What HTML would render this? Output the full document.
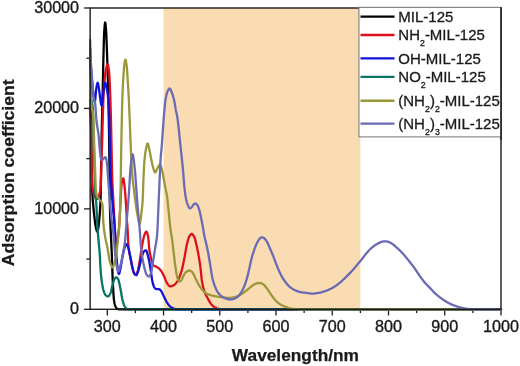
<!DOCTYPE html>
<html><head><meta charset="utf-8"><style>
html,body{margin:0;padding:0;background:#fff;}
svg{display:block;}
text{font-family:"Liberation Sans",sans-serif;fill:#1a1a1a;}
</style></head><body>
<svg width="520" height="366" viewBox="0 0 520 366">
<rect x="0" y="0" width="520" height="366" fill="#fff"/>
<rect x="163.54" y="8" width="196.84" height="301.30" fill="#FADCB3"/>
<g stroke="#1c1c1c" stroke-width="1.3">
<line x1="107.30" y1="309.3" x2="107.30" y2="315.50"/>
<line x1="135.42" y1="309.3" x2="135.42" y2="313.10"/>
<line x1="163.54" y1="309.3" x2="163.54" y2="315.50"/>
<line x1="191.66" y1="309.3" x2="191.66" y2="313.10"/>
<line x1="219.78" y1="309.3" x2="219.78" y2="315.50"/>
<line x1="247.90" y1="309.3" x2="247.90" y2="313.10"/>
<line x1="276.02" y1="309.3" x2="276.02" y2="315.50"/>
<line x1="304.14" y1="309.3" x2="304.14" y2="313.10"/>
<line x1="332.26" y1="309.3" x2="332.26" y2="315.50"/>
<line x1="360.38" y1="309.3" x2="360.38" y2="313.10"/>
<line x1="388.50" y1="309.3" x2="388.50" y2="315.50"/>
<line x1="416.62" y1="309.3" x2="416.62" y2="313.10"/>
<line x1="444.74" y1="309.3" x2="444.74" y2="315.50"/>
<line x1="472.86" y1="309.3" x2="472.86" y2="313.10"/>
<line x1="500.98" y1="309.3" x2="500.98" y2="315.50"/>
<line x1="83.95" y1="309.30" x2="90.15" y2="309.30"/>
<line x1="86.35" y1="259.08" x2="90.15" y2="259.08"/>
<line x1="83.95" y1="208.87" x2="90.15" y2="208.87"/>
<line x1="86.35" y1="158.65" x2="90.15" y2="158.65"/>
<line x1="83.95" y1="108.43" x2="90.15" y2="108.43"/>
<line x1="86.35" y1="58.22" x2="90.15" y2="58.22"/>
<line x1="83.95" y1="8.00" x2="90.15" y2="8.00"/>
</g>
<polyline points="90.40,100.00 90.65,103.19 90.90,111.08 91.15,125.88 91.40,150.00 91.65,166.98 91.90,179.22 92.15,187.46 92.40,194.06 92.65,198.76 92.90,201.91 93.15,204.46 93.40,207.08 93.65,209.77 93.90,212.40 94.15,214.89 94.40,217.17 94.65,219.21 94.90,221.17 95.15,223.05 95.40,224.78 95.65,226.30 95.90,227.57 96.15,228.61 96.40,229.62 96.65,230.51 96.90,231.18 97.15,231.49 97.40,231.34 97.65,230.74 97.90,229.82 98.15,228.71 98.40,227.45 98.65,225.56 98.90,223.15 99.15,220.52 99.40,217.85 99.65,214.89 99.90,211.51 100.15,207.67 100.40,203.12 100.65,196.19 100.90,180.93 101.15,162.99 101.40,149.13 101.65,136.44 101.90,124.57 102.15,113.51 102.40,103.36 102.65,92.78 102.90,81.23 103.15,69.72 103.40,58.17 103.65,48.20 103.90,39.44 104.15,32.85 104.40,29.08 104.65,25.91 104.90,23.60 105.15,22.53 105.40,23.10 105.65,25.22 105.90,28.28 106.15,31.74 106.40,36.78 106.65,43.25 106.90,50.00 107.15,56.69 107.40,63.86 107.65,71.59 107.90,79.89 108.15,88.99 108.40,99.24 108.65,110.69 108.90,123.99 109.15,140.40 109.40,161.10 109.65,186.20 109.90,205.34 110.15,215.60 110.40,223.21 110.65,229.94 110.90,235.57 111.15,240.54 111.40,245.43 111.65,250.81 111.90,257.27 112.15,264.64 112.40,272.07 112.65,278.73 112.90,283.93 113.15,288.60 113.40,292.85 113.65,296.46 113.90,299.20 114.15,301.02 114.40,302.52 114.65,303.77 114.90,304.80 115.15,305.61 115.40,306.23 115.65,306.77 115.90,307.25 116.15,307.68 116.40,308.03 116.65,308.32 116.90,308.54 117.15,308.69 117.40,308.82 117.65,308.95 117.90,309.06 118.15,309.15 118.40,309.22 118.65,309.27 118.90,309.30 119.15,309.30 119.40,309.30 119.65,309.30 119.90,309.30 120.15,309.30 120.40,309.30 120.65,309.30 120.90,309.30 121.15,309.30 121.40,309.30 121.65,309.30 121.90,309.30 122.15,309.30 122.40,309.30 122.65,309.30 122.90,309.30 123.15,309.30 123.40,309.30 123.65,309.30 123.90,309.30 124.15,309.30 124.40,309.30 124.65,309.30 124.90,309.30 125.15,309.30 125.40,309.30 125.65,309.30 125.90,309.30 126.15,309.30 126.40,309.30 126.65,309.30 126.90,309.30 127.15,309.30 127.40,309.30 127.65,309.30 127.90,309.30 128.15,309.30 128.40,309.30 128.65,309.30 128.90,309.30 129.15,309.30 129.40,309.30 129.65,309.30 129.90,309.30 130.15,309.30 130.40,309.30 130.65,309.30 130.90,309.30 131.15,309.30 131.40,309.30 131.65,309.30 131.90,309.30 132.15,309.30 132.40,309.30 132.65,309.30 132.90,309.30 133.15,309.30 133.40,309.30 133.65,309.30 133.90,309.30 134.15,309.30 134.40,309.30 134.65,309.30 134.90,309.30 135.15,309.30 135.40,309.30 135.65,309.30 135.90,309.30 136.15,309.30 136.40,309.30 136.65,309.30 136.90,309.30 137.15,309.30 137.40,309.30 137.65,309.30 137.90,309.30 138.15,309.30 138.40,309.30 138.65,309.30 138.90,309.30 139.15,309.30 139.40,309.30 139.65,309.30 139.90,309.30 140.15,309.30 140.40,309.30 140.65,309.30 140.90,309.30 141.15,309.30 141.40,309.30 141.65,309.30 141.90,309.30 142.15,309.30 142.40,309.30 142.65,309.30 142.90,309.30 143.15,309.30 143.40,309.30 143.65,309.30 143.90,309.30 144.15,309.30 144.40,309.30 144.65,309.30 144.90,309.30 145.15,309.30 145.40,309.30 145.65,309.30 145.90,309.30 146.15,309.30 146.40,309.30 146.65,309.30 146.90,309.30 147.15,309.30 147.40,309.30 147.65,309.30 147.90,309.30 148.15,309.30 148.40,309.30 148.65,309.30 148.90,309.30 149.15,309.30 149.40,309.30 149.65,309.30 149.90,309.30 150.15,309.30 150.40,309.30 150.65,309.30 150.90,309.30 151.15,309.30 151.40,309.30 151.65,309.30 151.90,309.30 152.15,309.30 152.40,309.30 152.65,309.30 152.90,309.30 153.15,309.30 153.40,309.30 153.65,309.30 153.90,309.30 154.15,309.30 154.40,309.30 154.65,309.30 154.90,309.30 155.15,309.30 155.40,309.30 155.65,309.30 155.90,309.30 156.15,309.30 156.40,309.30 156.65,309.30 156.90,309.30 157.15,309.30 157.40,309.30 157.65,309.30 157.90,309.30 158.15,309.30 158.40,309.30 158.65,309.30 158.90,309.30 159.15,309.30 159.40,309.30 159.65,309.30 159.90,309.30 160.15,309.30 160.40,309.30 160.65,309.30 160.90,309.30 161.15,309.30 161.40,309.30 161.65,309.30 161.90,309.30 162.15,309.30 162.40,309.30 162.65,309.30 162.90,309.30 163.15,309.30 163.40,309.30 163.65,309.30 163.90,309.30 164.15,309.30 164.40,309.30 164.65,309.30 164.90,309.30 165.15,309.30 165.40,309.30 165.65,309.30 165.90,309.30 166.15,309.30 166.40,309.30 166.65,309.30 166.90,309.30 167.15,309.30 167.40,309.30 167.65,309.30 167.90,309.30 168.15,309.30 168.40,309.30 168.65,309.30 168.90,309.30 169.15,309.30 169.40,309.30 169.65,309.30 169.90,309.30 170.15,309.30 170.40,309.30 170.65,309.30 170.90,309.30 171.15,309.30 171.40,309.30 171.65,309.30 171.90,309.30 172.15,309.30 172.40,309.30 172.65,309.30 172.90,309.30 173.15,309.30 173.40,309.30 173.65,309.30 173.90,309.30 174.15,309.30 174.40,309.30 174.65,309.30 174.90,309.30 175.15,309.30 175.40,309.30 175.65,309.30 175.90,309.30 176.15,309.30 176.40,309.30 176.65,309.30 176.90,309.30 177.15,309.30 177.40,309.30 177.65,309.30 177.90,309.30 178.15,309.30 178.40,309.30 178.65,309.30 178.90,309.30 179.15,309.30 179.40,309.30 179.65,309.30 179.90,309.30 180.15,309.30 180.40,309.30 180.65,309.30 180.90,309.30 181.15,309.30 181.40,309.30 181.65,309.30 181.90,309.30 182.15,309.30 182.40,309.30 182.65,309.30 182.90,309.30 183.15,309.30 183.40,309.30 183.65,309.30 183.90,309.30 184.15,309.30 184.40,309.30 184.65,309.30 184.90,309.30 185.15,309.30 185.40,309.30 185.65,309.30 185.90,309.30 186.15,309.30 186.40,309.30 186.65,309.30 186.90,309.30 187.15,309.30 187.40,309.30 187.65,309.30 187.90,309.30 188.15,309.30 188.40,309.30 188.65,309.30 188.90,309.30 189.15,309.30 189.40,309.30 189.65,309.30 189.90,309.30 190.15,309.30 190.40,309.30 190.65,309.30 190.90,309.30 191.15,309.30 191.40,309.30 191.65,309.30 191.90,309.30 192.15,309.30 192.40,309.30 192.65,309.30 192.90,309.30 193.15,309.30 193.40,309.30 193.65,309.30 193.90,309.30 194.15,309.30 194.40,309.30 194.65,309.30 194.90,309.30 195.15,309.30 195.40,309.30 195.65,309.30 195.90,309.30 196.15,309.30 196.40,309.30 196.65,309.30 196.90,309.30 197.15,309.30 197.40,309.30 197.65,309.30 197.90,309.30 198.15,309.30 198.40,309.30 198.65,309.30 198.90,309.30 199.15,309.30 199.40,309.30 199.65,309.30 199.90,309.30 200.15,309.30 200.40,309.30 200.65,309.30 200.90,309.30 201.15,309.30 201.40,309.30 201.65,309.30 201.90,309.30 202.15,309.30 202.40,309.30 202.65,309.30 202.90,309.30 203.15,309.30 203.40,309.30 203.65,309.30 203.90,309.30 204.15,309.30 204.40,309.30 204.65,309.30 204.90,309.30 205.15,309.30 205.40,309.30 205.65,309.30 205.90,309.30 206.15,309.30 206.40,309.30 206.65,309.30 206.90,309.30 207.15,309.30 207.40,309.30 207.65,309.30 207.90,309.30 208.15,309.30 208.40,309.30 208.65,309.30 208.90,309.30 209.15,309.30 209.40,309.30 209.65,309.30 209.90,309.30 210.15,309.30 210.40,309.30 210.65,309.30 210.90,309.30 211.15,309.30 211.40,309.30 211.65,309.30 211.90,309.30 212.15,309.30 212.40,309.30 212.65,309.30 212.90,309.30 213.15,309.30 213.40,309.30 213.65,309.30 213.90,309.30 214.15,309.30 214.40,309.30 214.65,309.30 214.90,309.30 215.15,309.30 215.40,309.30 215.65,309.30 215.90,309.30 216.15,309.30 216.40,309.30 216.65,309.30 216.90,309.30 217.15,309.30 217.40,309.30 217.65,309.30 217.90,309.30 218.15,309.30 218.40,309.30 218.65,309.30 218.90,309.30 219.15,309.30 219.40,309.30 219.65,309.30 219.90,309.30 220.15,309.30 220.40,309.30 220.65,309.30 220.90,309.30 221.15,309.30 221.40,309.30 221.65,309.30 221.90,309.30 222.15,309.30 222.40,309.30 222.65,309.30 222.90,309.30 223.15,309.30 223.40,309.30 223.65,309.30 223.90,309.30 224.15,309.30 224.40,309.30 224.65,309.30 224.90,309.30 225.15,309.30 225.40,309.30 225.65,309.30 225.90,309.30 226.15,309.30 226.40,309.30 226.65,309.30 226.90,309.30 227.15,309.30 227.40,309.30 227.65,309.30 227.90,309.30 228.15,309.30 228.40,309.30 228.65,309.30 228.90,309.30 229.15,309.30 229.40,309.30 229.65,309.30 229.90,309.30 230.15,309.30 230.40,309.30 230.65,309.30 230.90,309.30 231.15,309.30 231.40,309.30 231.65,309.30 231.90,309.30 232.15,309.30 232.40,309.30 232.65,309.30 232.90,309.30 233.15,309.30 233.40,309.30 233.65,309.30 233.90,309.30 234.15,309.30 234.40,309.30 234.65,309.30 234.90,309.30 235.15,309.30 235.40,309.30 235.65,309.30 235.90,309.30 236.15,309.30 236.40,309.30 236.65,309.30 236.90,309.30 237.15,309.30 237.40,309.30 237.65,309.30 237.90,309.30 238.15,309.30 238.40,309.30 238.65,309.30 238.90,309.30 239.15,309.30 239.40,309.30 239.65,309.30 239.90,309.30 240.15,309.30 240.40,309.30 240.65,309.30 240.90,309.30 241.15,309.30 241.40,309.30 241.65,309.30 241.90,309.30 242.15,309.30 242.40,309.30 242.65,309.30 242.90,309.30 243.15,309.30 243.40,309.30 243.65,309.30 243.90,309.30 244.15,309.30 244.40,309.30 244.65,309.30 244.90,309.30 245.15,309.30 245.40,309.30 245.65,309.30 245.90,309.30 246.15,309.30 246.40,309.30 246.65,309.30 246.90,309.30 247.15,309.30 247.40,309.30 247.65,309.30 247.90,309.30 248.15,309.30 248.40,309.30 248.65,309.30 248.90,309.30 249.15,309.30 249.40,309.30 249.65,309.30 249.90,309.30 250.15,309.30 250.40,309.30 250.65,309.30 250.90,309.30 251.15,309.30 251.40,309.30 251.65,309.30 251.90,309.30 252.15,309.30 252.40,309.30 252.65,309.30 252.90,309.30 253.15,309.30 253.40,309.30 253.65,309.30 253.90,309.30 254.15,309.30 254.40,309.30 254.65,309.30 254.90,309.30 255.15,309.30 255.40,309.30 255.65,309.30 255.90,309.30 256.15,309.30 256.40,309.30 256.65,309.30 256.90,309.30 257.15,309.30 257.40,309.30 257.65,309.30 257.90,309.30 258.15,309.30 258.40,309.30 258.65,309.30 258.90,309.30 259.15,309.30 259.40,309.30 259.65,309.30 259.90,309.30 260.15,309.30 260.40,309.30 260.65,309.30 260.90,309.30 261.15,309.30 261.40,309.30 261.65,309.30 261.90,309.30 262.15,309.30 262.40,309.30 262.65,309.30 262.90,309.30 263.15,309.30 263.40,309.30 263.65,309.30 263.90,309.30 264.15,309.30 264.40,309.30 264.65,309.30 264.90,309.30 265.15,309.30 265.40,309.30 265.65,309.30 265.90,309.30 266.15,309.30 266.40,309.30 266.65,309.30 266.90,309.30 267.15,309.30 267.40,309.30 267.65,309.30 267.90,309.30 268.15,309.30 268.40,309.30 268.65,309.30 268.90,309.30 269.15,309.30 269.40,309.30 269.65,309.30 269.90,309.30 270.15,309.30 270.40,309.30 270.65,309.30 270.90,309.30 271.15,309.30 271.40,309.30 271.65,309.30 271.90,309.30 272.15,309.30 272.40,309.30 272.65,309.30 272.90,309.30 273.15,309.30 273.40,309.30 273.65,309.30 273.90,309.30 274.15,309.30 274.40,309.30 274.65,309.30 274.90,309.30 275.15,309.30 275.40,309.30 275.65,309.30 275.90,309.30 276.15,309.30 276.40,309.30 276.65,309.30 276.90,309.30 277.15,309.30 277.40,309.30 277.65,309.30 277.90,309.30 278.15,309.30 278.40,309.30 278.65,309.30 278.90,309.30 279.15,309.30 279.40,309.30 279.65,309.30 279.90,309.30 280.15,309.30 280.40,309.30 280.65,309.30 280.90,309.30 281.15,309.30 281.40,309.30 281.65,309.30 281.90,309.30 282.15,309.30 282.40,309.30 282.65,309.30 282.90,309.30 283.15,309.30 283.40,309.30 283.65,309.30 283.90,309.30 284.15,309.30 284.40,309.30 284.65,309.30 284.90,309.30 285.15,309.30 285.40,309.30 285.65,309.30 285.90,309.30 286.15,309.30 286.40,309.30 286.65,309.30 286.90,309.30 287.15,309.30 287.40,309.30 287.65,309.30 287.90,309.30 288.15,309.30 288.40,309.30 288.65,309.30 288.90,309.30 289.15,309.30 289.40,309.30 289.65,309.30 289.90,309.30 290.15,309.30 290.40,309.30 290.65,309.30 290.90,309.30 291.15,309.30 291.40,309.30 291.65,309.30 291.90,309.30 292.15,309.30 292.40,309.30 292.65,309.30 292.90,309.30 293.15,309.30 293.40,309.30 293.65,309.30 293.90,309.30 294.15,309.30 294.40,309.30 294.65,309.30 294.90,309.30 295.15,309.30 295.40,309.30 295.65,309.30 295.90,309.30 296.15,309.30 296.40,309.30 296.65,309.30 296.90,309.30 297.15,309.30 297.40,309.30 297.65,309.30 297.90,309.30 298.15,309.30 298.40,309.30 298.65,309.30 298.90,309.30 299.15,309.30 299.40,309.30 299.65,309.30 299.90,309.30 300.15,309.30 300.40,309.30 300.65,309.30 300.90,309.30 301.15,309.30 301.40,309.30 301.65,309.30 301.90,309.30 302.15,309.30 302.40,309.30 302.65,309.30 302.90,309.30 303.15,309.30 303.40,309.30 303.65,309.30 303.90,309.30 304.15,309.30 304.40,309.30 304.65,309.30 304.90,309.30 305.15,309.30 305.40,309.30 305.65,309.30 305.90,309.30 306.15,309.30 306.40,309.30 306.65,309.30 306.90,309.30 307.15,309.30 307.40,309.30 307.65,309.30 307.90,309.30 308.15,309.30 308.40,309.30 308.65,309.30 308.90,309.30 309.15,309.30 309.40,309.30 309.65,309.30 309.90,309.30 310.15,309.30 310.40,309.30 310.65,309.30 310.90,309.30 311.15,309.30 311.40,309.30 311.65,309.30 311.90,309.30 312.15,309.30 312.40,309.30 312.65,309.30 312.90,309.30 313.15,309.30 313.40,309.30 313.65,309.30 313.90,309.30 314.15,309.30 314.40,309.30 314.65,309.30 314.90,309.30 315.15,309.30 315.40,309.30 315.65,309.30 315.90,309.30 316.15,309.30 316.40,309.30 316.65,309.30 316.90,309.30 317.15,309.30 317.40,309.30 317.65,309.30 317.90,309.30 318.15,309.30 318.40,309.30 318.65,309.30 318.90,309.30 319.15,309.30 319.40,309.30 319.65,309.30 319.90,309.30 320.15,309.30 320.40,309.30 320.65,309.30 320.90,309.30 321.15,309.30 321.40,309.30 321.65,309.30 321.90,309.30 322.15,309.30 322.40,309.30 322.65,309.30 322.90,309.30 323.15,309.30 323.40,309.30 323.65,309.30 323.90,309.30 324.15,309.30 324.40,309.30 324.65,309.30 324.90,309.30 325.15,309.30 325.40,309.30 325.65,309.30 325.90,309.30 326.15,309.30 326.40,309.30 326.65,309.30 326.90,309.30 327.15,309.30 327.40,309.30 327.65,309.30 327.90,309.30 328.15,309.30 328.40,309.30 328.65,309.30 328.90,309.30 329.15,309.30 329.40,309.30 329.65,309.30 329.90,309.30 330.15,309.30 330.40,309.30 330.65,309.30 330.90,309.30 331.15,309.30 331.40,309.30 331.65,309.30 331.90,309.30 332.15,309.30 332.40,309.30 332.65,309.30 332.90,309.30 333.15,309.30 333.40,309.30 333.65,309.30 333.90,309.30 334.15,309.30 334.40,309.30 334.65,309.30 334.90,309.30 335.15,309.30 335.40,309.30 335.65,309.30 335.90,309.30 336.15,309.30 336.40,309.30 336.65,309.30 336.90,309.30 337.15,309.30 337.40,309.30 337.65,309.30 337.90,309.30 338.15,309.30 338.40,309.30 338.65,309.30 338.90,309.30 339.15,309.30 339.40,309.30 339.65,309.30 339.90,309.30 340.15,309.30 340.40,309.30 340.65,309.30 340.90,309.30 341.15,309.30 341.40,309.30 341.65,309.30 341.90,309.30 342.15,309.30 342.40,309.30 342.65,309.30 342.90,309.30 343.15,309.30 343.40,309.30 343.65,309.30 343.90,309.30 344.15,309.30 344.40,309.30 344.65,309.30 344.90,309.30 345.15,309.30 345.40,309.30 345.65,309.30 345.90,309.30 346.15,309.30 346.40,309.30 346.65,309.30 346.90,309.30 347.15,309.30 347.40,309.30 347.65,309.30 347.90,309.30 348.15,309.30 348.40,309.30 348.65,309.30 348.90,309.30 349.15,309.30 349.40,309.30 349.65,309.30 349.90,309.30 350.15,309.30 350.40,309.30 350.65,309.30 350.90,309.30 351.15,309.30 351.40,309.30 351.65,309.30 351.90,309.30 352.15,309.30 352.40,309.30 352.65,309.30 352.90,309.30 353.15,309.30 353.40,309.30 353.65,309.30 353.90,309.30 354.15,309.30 354.40,309.30 354.65,309.30 354.90,309.30 355.15,309.30 355.40,309.30 355.65,309.30 355.90,309.30 356.15,309.30 356.40,309.30 356.65,309.30 356.90,309.30 357.15,309.30 357.40,309.30 357.65,309.30 357.90,309.30 358.15,309.30 358.40,309.30 358.65,309.30 358.90,309.30 359.15,309.30 359.40,309.30 359.65,309.30 359.90,309.30 360.15,309.30 360.40,309.30 360.65,309.30 360.90,309.30 361.15,309.30 361.40,309.30 361.65,309.30 361.90,309.30 362.15,309.30 362.40,309.30 362.65,309.30 362.90,309.30 363.15,309.30 363.40,309.30 363.65,309.30 363.90,309.30 364.15,309.30 364.40,309.30 364.65,309.30 364.90,309.30 365.15,309.30 365.40,309.30 365.65,309.30 365.90,309.30 366.15,309.30 366.40,309.30 366.65,309.30 366.90,309.30 367.15,309.30 367.40,309.30 367.65,309.30 367.90,309.30 368.15,309.30 368.40,309.30 368.65,309.30 368.90,309.30 369.15,309.30 369.40,309.30 369.65,309.30 369.90,309.30 370.15,309.30 370.40,309.30 370.65,309.30 370.90,309.30 371.15,309.30 371.40,309.30 371.65,309.30 371.90,309.30 372.15,309.30 372.40,309.30 372.65,309.30 372.90,309.30 373.15,309.30 373.40,309.30 373.65,309.30 373.90,309.30 374.15,309.30 374.40,309.30 374.65,309.30 374.90,309.30 375.15,309.30 375.40,309.30 375.65,309.30 375.90,309.30 376.15,309.30 376.40,309.30 376.65,309.30 376.90,309.30 377.15,309.30 377.40,309.30 377.65,309.30 377.90,309.30 378.15,309.30 378.40,309.30 378.65,309.30 378.90,309.30 379.15,309.30 379.40,309.30 379.65,309.30 379.90,309.30 380.15,309.30 380.40,309.30 380.65,309.30 380.90,309.30 381.15,309.30 381.40,309.30 381.65,309.30 381.90,309.30 382.15,309.30 382.40,309.30 382.65,309.30 382.90,309.30 383.15,309.30 383.40,309.30 383.65,309.30 383.90,309.30 384.15,309.30 384.40,309.30 384.65,309.30 384.90,309.30 385.15,309.30 385.40,309.30 385.65,309.30 385.90,309.30 386.15,309.30 386.40,309.30 386.65,309.30 386.90,309.30 387.15,309.30 387.40,309.30 387.65,309.30 387.90,309.30 388.15,309.30 388.40,309.30 388.65,309.30 388.90,309.30 389.15,309.30 389.40,309.30 389.65,309.30 389.90,309.30 390.15,309.30 390.40,309.30 390.65,309.30 390.90,309.30 391.15,309.30 391.40,309.30 391.65,309.30 391.90,309.30 392.15,309.30 392.40,309.30 392.65,309.30 392.90,309.30 393.15,309.30 393.40,309.30 393.65,309.30 393.90,309.30 394.15,309.30 394.40,309.30 394.65,309.30 394.90,309.30 395.15,309.30 395.40,309.30 395.65,309.30 395.90,309.30 396.15,309.30 396.40,309.30 396.65,309.30 396.90,309.30 397.15,309.30 397.40,309.30 397.65,309.30 397.90,309.30 398.15,309.30 398.40,309.30 398.65,309.30 398.90,309.30 399.15,309.30 399.40,309.30 399.65,309.30 399.90,309.30 400.15,309.30 400.40,309.30 400.65,309.30 400.90,309.30 401.15,309.30 401.40,309.30 401.65,309.30 401.90,309.30 402.15,309.30 402.40,309.30 402.65,309.30 402.90,309.30 403.15,309.30 403.40,309.30 403.65,309.30 403.90,309.30 404.15,309.30 404.40,309.30 404.65,309.30 404.90,309.30 405.15,309.30 405.40,309.30 405.65,309.30 405.90,309.30 406.15,309.30 406.40,309.30 406.65,309.30 406.90,309.30 407.15,309.30 407.40,309.30 407.65,309.30 407.90,309.30 408.15,309.30 408.40,309.30 408.65,309.30 408.90,309.30 409.15,309.30 409.40,309.30 409.65,309.30 409.90,309.30 410.15,309.30 410.40,309.30 410.65,309.30 410.90,309.30 411.15,309.30 411.40,309.30 411.65,309.30 411.90,309.30 412.15,309.30 412.40,309.30 412.65,309.30 412.90,309.30 413.15,309.30 413.40,309.30 413.65,309.30 413.90,309.30 414.15,309.30 414.40,309.30 414.65,309.30 414.90,309.30 415.15,309.30 415.40,309.30 415.65,309.30 415.90,309.30 416.15,309.30 416.40,309.30 416.65,309.30 416.90,309.30 417.15,309.30 417.40,309.30 417.65,309.30 417.90,309.30 418.15,309.30 418.40,309.30 418.65,309.30 418.90,309.30 419.15,309.30 419.40,309.30 419.65,309.30 419.90,309.30 420.15,309.30 420.40,309.30 420.65,309.30 420.90,309.30 421.15,309.30 421.40,309.30 421.65,309.30 421.90,309.30 422.15,309.30 422.40,309.30 422.65,309.30 422.90,309.30 423.15,309.30 423.40,309.30 423.65,309.30 423.90,309.30 424.15,309.30 424.40,309.30 424.65,309.30 424.90,309.30 425.15,309.30 425.40,309.30 425.65,309.30 425.90,309.30 426.15,309.30 426.40,309.30 426.65,309.30 426.90,309.30 427.15,309.30 427.40,309.30 427.65,309.30 427.90,309.30 428.15,309.30 428.40,309.30 428.65,309.30 428.90,309.30 429.15,309.30 429.40,309.30 429.65,309.30 429.90,309.30 430.15,309.30 430.40,309.30 430.65,309.30 430.90,309.30 431.15,309.30 431.40,309.30 431.65,309.30 431.90,309.30 432.15,309.30 432.40,309.30 432.65,309.30 432.90,309.30 433.15,309.30 433.40,309.30 433.65,309.30 433.90,309.30 434.15,309.30 434.40,309.30 434.65,309.30 434.90,309.30 435.15,309.30 435.40,309.30 435.65,309.30 435.90,309.30 436.15,309.30 436.40,309.30 436.65,309.30 436.90,309.30 437.15,309.30 437.40,309.30 437.65,309.30 437.90,309.30 438.15,309.30 438.40,309.30 438.65,309.30 438.90,309.30 439.15,309.30 439.40,309.30 439.65,309.30 439.90,309.30 440.15,309.30 440.40,309.30 440.65,309.30 440.90,309.30 441.15,309.30 441.40,309.30 441.65,309.30 441.90,309.30 442.15,309.30 442.40,309.30 442.65,309.30 442.90,309.30 443.15,309.30 443.40,309.30 443.65,309.30 443.90,309.30 444.15,309.30 444.40,309.30 444.65,309.30 444.90,309.30 445.15,309.30 445.40,309.30 445.65,309.30 445.90,309.30 446.15,309.30 446.40,309.30 446.65,309.30 446.90,309.30 447.15,309.30 447.40,309.30 447.65,309.30 447.90,309.30 448.15,309.30 448.40,309.30 448.65,309.30 448.90,309.30 449.15,309.30 449.40,309.30 449.65,309.30 449.90,309.30 450.15,309.30 450.40,309.30 450.65,309.30 450.90,309.30 451.15,309.30 451.40,309.30 451.65,309.30 451.90,309.30 452.15,309.30 452.40,309.30 452.65,309.30 452.90,309.30 453.15,309.30 453.40,309.30 453.65,309.30 453.90,309.30 454.15,309.30 454.40,309.30 454.65,309.30 454.90,309.30 455.15,309.30 455.40,309.30 455.65,309.30 455.90,309.30 456.15,309.30 456.40,309.30 456.65,309.30 456.90,309.30 457.15,309.30 457.40,309.30 457.65,309.30 457.90,309.30 458.15,309.30 458.40,309.30 458.65,309.30 458.90,309.30 459.15,309.30 459.40,309.30 459.65,309.30 459.90,309.30 460.15,309.30 460.40,309.30 460.65,309.30 460.90,309.30 461.15,309.30 461.40,309.30 461.65,309.30 461.90,309.30 462.15,309.30 462.40,309.30 462.65,309.30 462.90,309.30 463.15,309.30 463.40,309.30 463.65,309.30 463.90,309.30 464.15,309.30 464.40,309.30 464.65,309.30 464.90,309.30 465.15,309.30 465.40,309.30 465.65,309.30 465.90,309.30 466.15,309.30 466.40,309.30 466.65,309.30 466.90,309.30 467.15,309.30 467.40,309.30 467.65,309.30 467.90,309.30 468.15,309.30 468.40,309.30 468.65,309.30 468.90,309.30 469.15,309.30 469.40,309.30 469.65,309.30 469.90,309.30 470.15,309.30 470.40,309.30 470.65,309.30 470.90,309.30 471.15,309.30 471.40,309.30 471.65,309.30 471.90,309.30 472.15,309.30 472.40,309.30 472.65,309.30 472.90,309.30 473.15,309.30 473.40,309.30 473.65,309.30 473.90,309.30 474.15,309.30 474.40,309.30 474.65,309.30 474.90,309.30 475.15,309.30 475.40,309.30 475.65,309.30 475.90,309.30 476.15,309.30 476.40,309.30 476.65,309.30 476.90,309.30 477.15,309.30 477.40,309.30 477.65,309.30 477.90,309.30 478.15,309.30 478.40,309.30 478.65,309.30 478.90,309.30 479.15,309.30 479.40,309.30 479.65,309.30 479.90,309.30 480.15,309.30 480.40,309.30 480.65,309.30 480.90,309.30 481.15,309.30 481.40,309.30 481.65,309.30 481.90,309.30 482.15,309.30 482.40,309.30 482.65,309.30 482.90,309.30 483.15,309.30 483.40,309.30 483.65,309.30 483.90,309.30 484.15,309.30 484.40,309.30 484.65,309.30 484.90,309.30 485.15,309.30 485.40,309.30 485.65,309.30 485.90,309.30 486.15,309.30 486.40,309.30 486.65,309.30 486.90,309.30 487.15,309.30 487.40,309.30 487.65,309.30 487.90,309.30 488.15,309.30 488.40,309.30 488.65,309.30 488.90,309.30 489.15,309.30 489.40,309.30 489.65,309.30 489.90,309.30 490.15,309.30 490.40,309.30 490.65,309.30 490.90,309.30 491.15,309.30 491.40,309.30 491.65,309.30 491.90,309.30 492.15,309.30 492.40,309.30 492.65,309.30 492.90,309.30 493.15,309.30 493.40,309.30 493.65,309.30 493.90,309.30 494.15,309.30 494.40,309.30 494.65,309.30 494.90,309.30 495.15,309.30 495.40,309.30 495.65,309.30 495.90,309.30 496.15,309.30 496.40,309.30 496.65,309.30 496.90,309.30 497.15,309.30 497.40,309.30 497.65,309.30 497.90,309.30 498.15,309.30 498.40,309.30 498.65,309.30 498.90,309.30 499.15,309.30 499.40,309.30 499.65,309.30 499.90,309.30 500.15,309.30 500.40,309.30 500.65,309.30 500.90,309.30 501.00,309.30" fill="none" stroke="#000000" stroke-width="2.3" stroke-linejoin="round" stroke-linecap="round"/>
<polyline points="90.30,108.00 90.55,113.83 90.80,120.99 91.05,129.84 91.30,143.61 91.55,160.50 91.80,175.00 92.05,180.98 92.30,184.98 92.55,187.39 92.80,189.18 93.05,190.73 93.30,192.06 93.55,193.19 93.80,194.14 94.05,194.93 94.30,195.58 94.55,196.10 94.80,196.57 95.05,197.02 95.30,197.44 95.55,197.83 95.80,198.17 96.05,198.46 96.30,198.70 96.55,198.87 96.80,198.97 97.05,199.00 97.30,198.91 97.55,198.71 97.80,198.41 98.05,198.01 98.30,197.53 98.55,196.98 98.80,196.36 99.05,195.70 99.30,195.00 99.55,194.18 99.80,193.09 100.05,191.69 100.30,189.88 100.55,187.61 100.80,184.34 101.05,176.77 101.30,167.05 101.55,158.51 101.80,151.63 102.05,144.71 102.30,136.30 102.55,125.71 102.80,116.70 103.05,108.82 103.30,101.80 103.55,95.99 103.80,91.37 104.05,87.31 104.30,83.75 104.55,80.66 104.80,78.00 105.05,75.63 105.30,73.47 105.55,71.57 105.80,69.99 106.05,68.78 106.30,67.71 106.55,66.69 106.80,65.79 107.05,65.05 107.30,64.54 107.55,64.31 107.80,64.48 108.05,65.15 108.30,66.24 108.55,67.66 108.80,69.30 109.05,71.37 109.30,74.80 109.55,79.17 109.80,84.03 110.05,90.01 110.30,97.00 110.55,104.79 110.80,113.72 111.05,123.65 111.30,134.60 111.55,147.57 111.80,160.00 112.05,171.04 112.30,180.00 112.55,186.12 112.80,191.07 113.05,195.48 113.30,200.00 113.55,204.72 113.80,209.34 114.05,213.89 114.30,218.40 114.55,222.92 114.80,227.76 115.05,232.57 115.30,236.69 115.55,239.83 115.80,242.80 116.05,245.09 116.30,246.00 116.55,245.67 116.80,244.83 117.05,243.71 117.30,242.48 117.55,240.77 117.80,238.65 118.05,236.32 118.30,234.00 118.55,231.77 118.80,229.48 119.05,226.95 119.30,224.00 119.55,220.25 119.80,215.73 120.05,210.88 120.30,206.03 120.55,200.64 120.80,195.41 121.05,191.28 121.30,187.76 121.55,184.60 121.80,182.17 122.05,180.81 122.30,179.93 122.55,179.20 122.80,178.66 123.05,178.35 123.30,178.37 123.55,179.13 123.80,180.53 124.05,182.35 124.30,184.38 124.55,186.41 124.80,188.74 125.05,191.52 125.30,194.62 125.55,197.95 125.80,201.44 126.05,205.52 126.30,210.01 126.55,214.59 126.80,218.92 127.05,222.69 127.30,225.67 127.55,228.49 127.80,232.00 128.05,238.04 128.30,244.47 128.55,247.46 128.80,249.52 129.05,251.20 129.30,252.59 129.55,253.77 129.80,254.84 130.05,255.89 130.30,257.00 130.55,258.27 130.80,259.62 131.05,260.97 131.30,262.32 131.55,263.64 131.80,264.90 132.05,266.09 132.30,267.20 132.55,268.19 132.80,269.16 133.05,270.13 133.30,271.05 133.55,271.89 133.80,272.63 134.05,273.21 134.30,273.60 134.55,273.88 134.80,274.14 135.05,274.38 135.30,274.59 135.55,274.76 135.80,274.89 136.05,274.97 136.30,275.00 136.55,274.83 136.80,274.35 137.05,273.66 137.30,272.82 137.55,271.91 137.80,271.00 138.05,270.02 138.30,268.85 138.55,267.54 138.80,266.13 139.05,264.67 139.30,263.18 139.55,261.71 139.80,260.17 140.05,258.55 140.30,256.86 140.55,255.16 140.80,253.45 141.05,251.79 141.30,250.20 141.55,248.71 141.80,247.26 142.05,245.82 142.30,244.41 142.55,243.04 142.80,241.73 143.05,240.49 143.30,239.34 143.55,238.30 143.80,237.30 144.05,236.33 144.30,235.43 144.55,234.62 144.80,233.94 145.05,233.40 145.30,232.92 145.55,232.46 145.80,232.07 146.05,231.77 146.30,231.61 146.55,231.65 146.80,231.96 147.05,232.50 147.30,233.24 147.55,234.14 147.80,235.14 148.05,236.24 148.30,238.13 148.55,240.80 148.80,243.84 149.05,246.80 149.30,249.26 149.55,250.96 149.80,252.46 150.05,253.83 150.30,255.08 150.55,256.24 150.80,257.31 151.05,258.32 151.30,259.27 151.55,260.18 151.80,261.10 152.05,262.02 152.30,262.89 152.55,263.67 152.80,264.32 153.05,264.81 153.30,265.10 153.55,265.32 153.80,265.51 154.05,265.68 154.30,265.82 154.55,265.95 154.80,266.06 155.05,266.17 155.30,266.27 155.55,266.38 155.80,266.49 156.05,266.61 156.30,266.74 156.55,266.89 156.80,267.04 157.05,267.18 157.30,267.33 157.55,267.48 157.80,267.64 158.05,267.80 158.30,267.97 158.55,268.15 158.80,268.34 159.05,268.54 159.30,268.77 159.55,269.01 159.80,269.27 160.05,269.55 160.30,269.84 160.55,270.15 160.80,270.47 161.05,270.81 161.30,271.16 161.55,271.52 161.80,271.92 162.05,272.34 162.30,272.79 162.55,273.27 162.80,273.76 163.05,274.26 163.30,274.77 163.55,275.28 163.80,275.80 164.05,276.32 164.30,276.88 164.55,277.47 164.80,278.09 165.05,278.72 165.30,279.35 165.55,279.98 165.80,280.59 166.05,281.18 166.30,281.73 166.55,282.24 166.80,282.69 167.05,283.07 167.30,283.44 167.55,283.81 167.80,284.18 168.05,284.54 168.30,284.89 168.55,285.22 168.80,285.52 169.05,285.78 169.30,286.01 169.55,286.19 169.80,286.32 170.05,286.39 170.30,286.40 170.55,286.38 170.80,286.35 171.05,286.30 171.30,286.24 171.55,286.17 171.80,286.08 172.05,285.99 172.30,285.88 172.55,285.77 172.80,285.65 173.05,285.52 173.30,285.39 173.55,285.25 173.80,285.11 174.05,284.97 174.30,284.81 174.55,284.63 174.80,284.42 175.05,284.20 175.30,283.95 175.55,283.68 175.80,283.39 176.05,283.08 176.30,282.76 176.55,282.42 176.80,282.07 177.05,281.70 177.30,281.33 177.55,280.94 177.80,280.54 178.05,280.10 178.30,279.64 178.55,279.13 178.80,278.60 179.05,278.03 179.30,277.43 179.55,276.80 179.80,276.14 180.05,275.46 180.30,274.75 180.55,274.01 180.80,273.25 181.05,272.47 181.30,271.67 181.55,270.84 181.80,270.00 182.05,269.10 182.30,268.12 182.55,267.05 182.80,265.93 183.05,264.75 183.30,263.54 183.55,262.29 183.80,261.03 184.05,259.76 184.30,258.50 184.55,257.23 184.80,255.89 185.05,254.48 185.30,253.03 185.55,251.56 185.80,250.11 186.05,248.69 186.30,247.34 186.55,246.08 186.80,244.92 187.05,243.88 187.30,242.85 187.55,241.84 187.80,240.86 188.05,239.92 188.30,239.05 188.55,238.26 188.80,237.56 189.05,236.96 189.30,236.50 189.55,236.11 189.80,235.72 190.05,235.36 190.30,235.02 190.55,234.72 190.80,234.46 191.05,234.25 191.30,234.10 191.55,234.01 191.80,234.01 192.05,234.08 192.30,234.23 192.55,234.45 192.80,234.72 193.05,235.04 193.30,235.39 193.55,235.77 193.80,236.17 194.05,236.58 194.30,237.09 194.55,237.71 194.80,238.44 195.05,239.26 195.30,240.16 195.55,241.12 195.80,242.11 196.05,243.14 196.30,244.17 196.55,245.21 196.80,246.28 197.05,247.43 197.30,248.63 197.55,249.90 197.80,251.21 198.05,252.56 198.30,253.95 198.55,255.37 198.80,256.82 199.05,258.30 199.30,259.80 199.55,261.36 199.80,262.98 200.05,264.68 200.30,266.48 200.55,268.40 200.80,270.65 201.05,273.17 201.30,275.72 201.55,278.07 201.80,280.00 202.05,281.58 202.30,283.03 202.55,284.36 202.80,285.58 203.05,286.70 203.30,287.73 203.55,288.68 203.80,289.56 204.05,290.38 204.30,291.14 204.55,291.85 204.80,292.52 205.05,293.14 205.30,293.73 205.55,294.27 205.80,294.77 206.05,295.24 206.30,295.69 206.55,296.15 206.80,296.61 207.05,297.09 207.30,297.58 207.55,298.08 207.80,298.57 208.05,299.06 208.30,299.54 208.55,300.01 208.80,300.46 209.05,300.88 209.30,301.30 209.55,301.70 209.80,302.10 210.05,302.48 210.30,302.85 210.55,303.20 210.80,303.54 211.05,303.86 211.30,304.18 211.55,304.48 211.80,304.77 212.05,305.05 212.30,305.32 212.55,305.58 212.80,305.82 213.05,306.04 213.30,306.26 213.55,306.47 213.80,306.67 214.05,306.87 214.30,307.06 214.55,307.23 214.80,307.40 215.05,307.56 215.30,307.70 215.55,307.82 215.80,307.95 216.05,308.06 216.30,308.18 216.55,308.29 216.80,308.39 217.05,308.49 217.30,308.58 217.55,308.66 217.80,308.74 218.05,308.80 218.30,308.86 218.55,308.91 218.80,308.95 219.05,309.00 219.30,309.04 219.55,309.08 219.80,309.12 220.05,309.15 220.30,309.18 220.55,309.21 220.80,309.24 221.05,309.26 221.30,309.28 221.55,309.29 221.80,309.30 222.05,309.30 222.30,309.30 222.55,309.30 222.80,309.30 223.05,309.30 223.30,309.30 223.55,309.30 223.80,309.30 224.05,309.30 224.30,309.30 224.55,309.30 224.80,309.30 225.05,309.30 225.30,309.30 225.55,309.30 225.80,309.30 226.05,309.30 226.30,309.30 226.55,309.30 226.80,309.30 227.05,309.30 227.30,309.30 227.55,309.30 227.80,309.30 228.05,309.30 228.30,309.30 228.55,309.30 228.80,309.30 229.05,309.30 229.30,309.30 229.55,309.30 229.80,309.30 230.05,309.30 230.30,309.30 230.55,309.30 230.80,309.30 231.05,309.30 231.30,309.30 231.55,309.30 231.80,309.30 232.05,309.30 232.30,309.30 232.55,309.30 232.80,309.30 233.05,309.30 233.30,309.30 233.55,309.30 233.80,309.30 234.05,309.30 234.30,309.30 234.55,309.30 234.80,309.30 235.05,309.30 235.30,309.30 235.55,309.30 235.80,309.30 236.05,309.30 236.30,309.30 236.55,309.30 236.80,309.30 237.05,309.30 237.30,309.30 237.55,309.30 237.80,309.30 238.05,309.30 238.30,309.30 238.55,309.30 238.80,309.30 239.05,309.30 239.30,309.30 239.55,309.30 239.80,309.30 240.05,309.30 240.30,309.30 240.55,309.30 240.80,309.30 241.05,309.30 241.30,309.30 241.55,309.30 241.80,309.30 242.05,309.30 242.30,309.30 242.55,309.30 242.80,309.30 243.05,309.30 243.30,309.30 243.55,309.30 243.80,309.30 244.05,309.30 244.30,309.30 244.55,309.30 244.80,309.30 245.05,309.30 245.30,309.30 245.55,309.30 245.80,309.30 246.05,309.30 246.30,309.30 246.55,309.30 246.80,309.30 247.05,309.30 247.30,309.30 247.55,309.30 247.80,309.30 248.05,309.30 248.30,309.30 248.55,309.30 248.80,309.30 249.05,309.30 249.30,309.30 249.55,309.30 249.80,309.30 250.05,309.30 250.30,309.30 250.55,309.30 250.80,309.30 251.05,309.30 251.30,309.30 251.55,309.30 251.80,309.30 252.05,309.30 252.30,309.30 252.55,309.30 252.80,309.30 253.05,309.30 253.30,309.30 253.55,309.30 253.80,309.30 254.05,309.30 254.30,309.30 254.55,309.30 254.80,309.30 255.05,309.30 255.30,309.30 255.55,309.30 255.80,309.30 256.05,309.30 256.30,309.30 256.55,309.30 256.80,309.30 257.05,309.30 257.30,309.30 257.55,309.30 257.80,309.30 258.05,309.30 258.30,309.30 258.55,309.30 258.80,309.30 259.05,309.30 259.30,309.30 259.55,309.30 259.80,309.30 260.05,309.30 260.30,309.30 260.55,309.30 260.80,309.30 261.05,309.30 261.30,309.30 261.55,309.30 261.80,309.30 262.05,309.30 262.30,309.30 262.55,309.30 262.80,309.30 263.05,309.30 263.30,309.30 263.55,309.30 263.80,309.30 264.05,309.30 264.30,309.30 264.55,309.30 264.80,309.30 265.05,309.30 265.30,309.30 265.55,309.30 265.80,309.30 266.05,309.30 266.30,309.30 266.55,309.30 266.80,309.30 267.05,309.30 267.30,309.30 267.55,309.30 267.80,309.30 268.05,309.30 268.30,309.30 268.55,309.30 268.80,309.30 269.05,309.30 269.30,309.30 269.55,309.30 269.80,309.30 270.05,309.30 270.30,309.30 270.55,309.30 270.80,309.30 271.05,309.30 271.30,309.30 271.55,309.30 271.80,309.30 272.05,309.30 272.30,309.30 272.55,309.30 272.80,309.30 273.05,309.30 273.30,309.30 273.55,309.30 273.80,309.30 274.05,309.30 274.30,309.30 274.55,309.30 274.80,309.30 275.05,309.30 275.30,309.30 275.55,309.30 275.80,309.30 276.05,309.30 276.30,309.30 276.55,309.30 276.80,309.30 277.05,309.30 277.30,309.30 277.55,309.30 277.80,309.30 278.05,309.30 278.30,309.30 278.55,309.30 278.80,309.30 279.05,309.30 279.30,309.30 279.55,309.30 279.80,309.30 280.05,309.30 280.30,309.30 280.55,309.30 280.80,309.30 281.05,309.30 281.30,309.30 281.55,309.30 281.80,309.30 282.05,309.30 282.30,309.30 282.55,309.30 282.80,309.30 283.05,309.30 283.30,309.30 283.55,309.30 283.80,309.30 284.05,309.30 284.30,309.30 284.55,309.30 284.80,309.30 285.05,309.30 285.30,309.30 285.55,309.30 285.80,309.30 286.05,309.30 286.30,309.30 286.55,309.30 286.80,309.30 287.05,309.30 287.30,309.30 287.55,309.30 287.80,309.30 288.05,309.30 288.30,309.30 288.55,309.30 288.80,309.30 289.05,309.30 289.30,309.30 289.55,309.30 289.80,309.30 290.05,309.30 290.30,309.30 290.55,309.30 290.80,309.30 291.05,309.30 291.30,309.30 291.55,309.30 291.80,309.30 292.05,309.30 292.30,309.30 292.55,309.30 292.80,309.30 293.05,309.30 293.30,309.30 293.55,309.30 293.80,309.30 294.05,309.30 294.30,309.30 294.55,309.30 294.80,309.30 295.05,309.30 295.30,309.30 295.55,309.30 295.80,309.30 296.05,309.30 296.30,309.30 296.55,309.30 296.80,309.30 297.05,309.30 297.30,309.30 297.55,309.30 297.80,309.30 298.05,309.30 298.30,309.30 298.55,309.30 298.80,309.30 299.05,309.30 299.30,309.30 299.55,309.30 299.80,309.30 300.05,309.30 300.30,309.30 300.55,309.30 300.80,309.30 301.05,309.30 301.30,309.30 301.55,309.30 301.80,309.30 302.05,309.30 302.30,309.30 302.55,309.30 302.80,309.30 303.05,309.30 303.30,309.30 303.55,309.30 303.80,309.30 304.05,309.30 304.30,309.30 304.55,309.30 304.80,309.30 305.05,309.30 305.30,309.30 305.55,309.30 305.80,309.30 306.05,309.30 306.30,309.30 306.55,309.30 306.80,309.30 307.05,309.30 307.30,309.30 307.55,309.30 307.80,309.30 308.05,309.30 308.30,309.30 308.55,309.30 308.80,309.30 309.05,309.30 309.30,309.30 309.55,309.30 309.80,309.30 310.05,309.30 310.30,309.30 310.55,309.30 310.80,309.30 311.05,309.30 311.30,309.30 311.55,309.30 311.80,309.30 312.05,309.30 312.30,309.30 312.55,309.30 312.80,309.30 313.05,309.30 313.30,309.30 313.55,309.30 313.80,309.30 314.05,309.30 314.30,309.30 314.55,309.30 314.80,309.30 315.05,309.30 315.30,309.30 315.55,309.30 315.80,309.30 316.05,309.30 316.30,309.30 316.55,309.30 316.80,309.30 317.05,309.30 317.30,309.30 317.55,309.30 317.80,309.30 318.05,309.30 318.30,309.30 318.55,309.30 318.80,309.30 319.05,309.30 319.30,309.30 319.55,309.30 319.80,309.30 320.05,309.30 320.30,309.30 320.55,309.30 320.80,309.30 321.05,309.30 321.30,309.30 321.55,309.30 321.80,309.30 322.05,309.30 322.30,309.30 322.55,309.30 322.80,309.30 323.05,309.30 323.30,309.30 323.55,309.30 323.80,309.30 324.05,309.30 324.30,309.30 324.55,309.30 324.80,309.30 325.05,309.30 325.30,309.30 325.55,309.30 325.80,309.30 326.05,309.30 326.30,309.30 326.55,309.30 326.80,309.30 327.05,309.30 327.30,309.30 327.55,309.30 327.80,309.30 328.05,309.30 328.30,309.30 328.55,309.30 328.80,309.30 329.05,309.30 329.30,309.30 329.55,309.30 329.80,309.30 330.05,309.30 330.30,309.30 330.55,309.30 330.80,309.30 331.05,309.30 331.30,309.30 331.55,309.30 331.80,309.30 332.05,309.30 332.30,309.30 332.55,309.30 332.80,309.30 333.05,309.30 333.30,309.30 333.55,309.30 333.80,309.30 334.05,309.30 334.30,309.30 334.55,309.30 334.80,309.30 335.05,309.30 335.30,309.30 335.55,309.30 335.80,309.30 336.05,309.30 336.30,309.30 336.55,309.30 336.80,309.30 337.05,309.30 337.30,309.30 337.55,309.30 337.80,309.30 338.05,309.30 338.30,309.30 338.55,309.30 338.80,309.30 339.05,309.30 339.30,309.30 339.55,309.30 339.80,309.30 340.05,309.30 340.30,309.30 340.55,309.30 340.80,309.30 341.05,309.30 341.30,309.30 341.55,309.30 341.80,309.30 342.05,309.30 342.30,309.30 342.55,309.30 342.80,309.30 343.05,309.30 343.30,309.30 343.55,309.30 343.80,309.30 344.05,309.30 344.30,309.30 344.55,309.30 344.80,309.30 345.05,309.30 345.30,309.30 345.55,309.30 345.80,309.30 346.05,309.30 346.30,309.30 346.55,309.30 346.80,309.30 347.05,309.30 347.30,309.30 347.55,309.30 347.80,309.30 348.05,309.30 348.30,309.30 348.55,309.30 348.80,309.30 349.05,309.30 349.30,309.30 349.55,309.30 349.80,309.30 350.05,309.30 350.30,309.30 350.55,309.30 350.80,309.30 351.05,309.30 351.30,309.30 351.55,309.30 351.80,309.30 352.05,309.30 352.30,309.30 352.55,309.30 352.80,309.30 353.05,309.30 353.30,309.30 353.55,309.30 353.80,309.30 354.05,309.30 354.30,309.30 354.55,309.30 354.80,309.30 355.05,309.30 355.30,309.30 355.55,309.30 355.80,309.30 356.05,309.30 356.30,309.30 356.55,309.30 356.80,309.30 357.05,309.30 357.30,309.30 357.55,309.30 357.80,309.30 358.05,309.30 358.30,309.30 358.55,309.30 358.80,309.30 359.05,309.30 359.30,309.30 359.55,309.30 359.80,309.30 360.05,309.30 360.30,309.30 360.55,309.30 360.80,309.30 361.05,309.30 361.30,309.30 361.55,309.30 361.80,309.30 362.05,309.30 362.30,309.30 362.55,309.30 362.80,309.30 363.05,309.30 363.30,309.30 363.55,309.30 363.80,309.30 364.05,309.30 364.30,309.30 364.55,309.30 364.80,309.30 365.05,309.30 365.30,309.30 365.55,309.30 365.80,309.30 366.05,309.30 366.30,309.30 366.55,309.30 366.80,309.30 367.05,309.30 367.30,309.30 367.55,309.30 367.80,309.30 368.05,309.30 368.30,309.30 368.55,309.30 368.80,309.30 369.05,309.30 369.30,309.30 369.55,309.30 369.80,309.30 370.05,309.30 370.30,309.30 370.55,309.30 370.80,309.30 371.05,309.30 371.30,309.30 371.55,309.30 371.80,309.30 372.05,309.30 372.30,309.30 372.55,309.30 372.80,309.30 373.05,309.30 373.30,309.30 373.55,309.30 373.80,309.30 374.05,309.30 374.30,309.30 374.55,309.30 374.80,309.30 375.05,309.30 375.30,309.30 375.55,309.30 375.80,309.30 376.05,309.30 376.30,309.30 376.55,309.30 376.80,309.30 377.05,309.30 377.30,309.30 377.55,309.30 377.80,309.30 378.05,309.30 378.30,309.30 378.55,309.30 378.80,309.30 379.05,309.30 379.30,309.30 379.55,309.30 379.80,309.30 380.05,309.30 380.30,309.30 380.55,309.30 380.80,309.30 381.05,309.30 381.30,309.30 381.55,309.30 381.80,309.30 382.05,309.30 382.30,309.30 382.55,309.30 382.80,309.30 383.05,309.30 383.30,309.30 383.55,309.30 383.80,309.30 384.05,309.30 384.30,309.30 384.55,309.30 384.80,309.30 385.05,309.30 385.30,309.30 385.55,309.30 385.80,309.30 386.05,309.30 386.30,309.30 386.55,309.30 386.80,309.30 387.05,309.30 387.30,309.30 387.55,309.30 387.80,309.30 388.05,309.30 388.30,309.30 388.55,309.30 388.80,309.30 389.05,309.30 389.30,309.30 389.55,309.30 389.80,309.30 390.05,309.30 390.30,309.30 390.55,309.30 390.80,309.30 391.05,309.30 391.30,309.30 391.55,309.30 391.80,309.30 392.05,309.30 392.30,309.30 392.55,309.30 392.80,309.30 393.05,309.30 393.30,309.30 393.55,309.30 393.80,309.30 394.05,309.30 394.30,309.30 394.55,309.30 394.80,309.30 395.05,309.30 395.30,309.30 395.55,309.30 395.80,309.30 396.05,309.30 396.30,309.30 396.55,309.30 396.80,309.30 397.05,309.30 397.30,309.30 397.55,309.30 397.80,309.30 398.05,309.30 398.30,309.30 398.55,309.30 398.80,309.30 399.05,309.30 399.30,309.30 399.55,309.30 399.80,309.30 400.05,309.30 400.30,309.30 400.55,309.30 400.80,309.30 401.05,309.30 401.30,309.30 401.55,309.30 401.80,309.30 402.05,309.30 402.30,309.30 402.55,309.30 402.80,309.30 403.05,309.30 403.30,309.30 403.55,309.30 403.80,309.30 404.05,309.30 404.30,309.30 404.55,309.30 404.80,309.30 405.05,309.30 405.30,309.30 405.55,309.30 405.80,309.30 406.05,309.30 406.30,309.30 406.55,309.30 406.80,309.30 407.05,309.30 407.30,309.30 407.55,309.30 407.80,309.30 408.05,309.30 408.30,309.30 408.55,309.30 408.80,309.30 409.05,309.30 409.30,309.30 409.55,309.30 409.80,309.30 410.05,309.30 410.30,309.30 410.55,309.30 410.80,309.30 411.05,309.30 411.30,309.30 411.55,309.30 411.80,309.30 412.05,309.30 412.30,309.30 412.55,309.30 412.80,309.30 413.05,309.30 413.30,309.30 413.55,309.30 413.80,309.30 414.05,309.30 414.30,309.30 414.55,309.30 414.80,309.30 415.05,309.30 415.30,309.30 415.55,309.30 415.80,309.30 416.05,309.30 416.30,309.30 416.55,309.30 416.80,309.30 417.05,309.30 417.30,309.30 417.55,309.30 417.80,309.30 418.05,309.30 418.30,309.30 418.55,309.30 418.80,309.30 419.05,309.30 419.30,309.30 419.55,309.30 419.80,309.30 420.05,309.30 420.30,309.30 420.55,309.30 420.80,309.30 421.05,309.30 421.30,309.30 421.55,309.30 421.80,309.30 422.05,309.30 422.30,309.30 422.55,309.30 422.80,309.30 423.05,309.30 423.30,309.30 423.55,309.30 423.80,309.30 424.05,309.30 424.30,309.30 424.55,309.30 424.80,309.30 425.05,309.30 425.30,309.30 425.55,309.30 425.80,309.30 426.05,309.30 426.30,309.30 426.55,309.30 426.80,309.30 427.05,309.30 427.30,309.30 427.55,309.30 427.80,309.30 428.05,309.30 428.30,309.30 428.55,309.30 428.80,309.30 429.05,309.30 429.30,309.30 429.55,309.30 429.80,309.30 430.05,309.30 430.30,309.30 430.55,309.30 430.80,309.30 431.05,309.30 431.30,309.30 431.55,309.30 431.80,309.30 432.05,309.30 432.30,309.30 432.55,309.30 432.80,309.30 433.05,309.30 433.30,309.30 433.55,309.30 433.80,309.30 434.05,309.30 434.30,309.30 434.55,309.30 434.80,309.30 435.05,309.30 435.30,309.30 435.55,309.30 435.80,309.30 436.05,309.30 436.30,309.30 436.55,309.30 436.80,309.30 437.05,309.30 437.30,309.30 437.55,309.30 437.80,309.30 438.05,309.30 438.30,309.30 438.55,309.30 438.80,309.30 439.05,309.30 439.30,309.30 439.55,309.30 439.80,309.30 440.05,309.30 440.30,309.30 440.55,309.30 440.80,309.30 441.05,309.30 441.30,309.30 441.55,309.30 441.80,309.30 442.05,309.30 442.30,309.30 442.55,309.30 442.80,309.30 443.05,309.30 443.30,309.30 443.55,309.30 443.80,309.30 444.05,309.30 444.30,309.30 444.55,309.30 444.80,309.30 445.05,309.30 445.30,309.30 445.55,309.30 445.80,309.30 446.05,309.30 446.30,309.30 446.55,309.30 446.80,309.30 447.05,309.30 447.30,309.30 447.55,309.30 447.80,309.30 448.05,309.30 448.30,309.30 448.55,309.30 448.80,309.30 449.05,309.30 449.30,309.30 449.55,309.30 449.80,309.30 450.05,309.30 450.30,309.30 450.55,309.30 450.80,309.30 451.05,309.30 451.30,309.30 451.55,309.30 451.80,309.30 452.05,309.30 452.30,309.30 452.55,309.30 452.80,309.30 453.05,309.30 453.30,309.30 453.55,309.30 453.80,309.30 454.05,309.30 454.30,309.30 454.55,309.30 454.80,309.30 455.05,309.30 455.30,309.30 455.55,309.30 455.80,309.30 456.05,309.30 456.30,309.30 456.55,309.30 456.80,309.30 457.05,309.30 457.30,309.30 457.55,309.30 457.80,309.30 458.05,309.30 458.30,309.30 458.55,309.30 458.80,309.30 459.05,309.30 459.30,309.30 459.55,309.30 459.80,309.30 460.05,309.30 460.30,309.30 460.55,309.30 460.80,309.30 461.05,309.30 461.30,309.30 461.55,309.30 461.80,309.30 462.05,309.30 462.30,309.30 462.55,309.30 462.80,309.30 463.05,309.30 463.30,309.30 463.55,309.30 463.80,309.30 464.05,309.30 464.30,309.30 464.55,309.30 464.80,309.30 465.05,309.30 465.30,309.30 465.55,309.30 465.80,309.30 466.05,309.30 466.30,309.30 466.55,309.30 466.80,309.30 467.05,309.30 467.30,309.30 467.55,309.30 467.80,309.30 468.05,309.30 468.30,309.30 468.55,309.30 468.80,309.30 469.05,309.30 469.30,309.30 469.55,309.30 469.80,309.30 470.05,309.30 470.30,309.30 470.55,309.30 470.80,309.30 471.05,309.30 471.30,309.30 471.55,309.30 471.80,309.30 472.05,309.30 472.30,309.30 472.55,309.30 472.80,309.30 473.05,309.30 473.30,309.30 473.55,309.30 473.80,309.30 474.05,309.30 474.30,309.30 474.55,309.30 474.80,309.30 475.05,309.30 475.30,309.30 475.55,309.30 475.80,309.30 476.05,309.30 476.30,309.30 476.55,309.30 476.80,309.30 477.05,309.30 477.30,309.30 477.55,309.30 477.80,309.30 478.05,309.30 478.30,309.30 478.55,309.30 478.80,309.30 479.05,309.30 479.30,309.30 479.55,309.30 479.80,309.30 480.05,309.30 480.30,309.30 480.55,309.30 480.80,309.30 481.05,309.30 481.30,309.30 481.55,309.30 481.80,309.30 482.05,309.30 482.30,309.30 482.55,309.30 482.80,309.30 483.05,309.30 483.30,309.30 483.55,309.30 483.80,309.30 484.05,309.30 484.30,309.30 484.55,309.30 484.80,309.30 485.05,309.30 485.30,309.30 485.55,309.30 485.80,309.30 486.05,309.30 486.30,309.30 486.55,309.30 486.80,309.30 487.05,309.30 487.30,309.30 487.55,309.30 487.80,309.30 488.05,309.30 488.30,309.30 488.55,309.30 488.80,309.30 489.05,309.30 489.30,309.30 489.55,309.30 489.80,309.30 490.05,309.30 490.30,309.30 490.55,309.30 490.80,309.30 491.05,309.30 491.30,309.30 491.55,309.30 491.80,309.30 492.05,309.30 492.30,309.30 492.55,309.30 492.80,309.30 493.05,309.30 493.30,309.30 493.55,309.30 493.80,309.30 494.05,309.30 494.30,309.30 494.55,309.30 494.80,309.30 495.05,309.30 495.30,309.30 495.55,309.30 495.80,309.30 496.05,309.30 496.30,309.30 496.55,309.30 496.80,309.30 497.05,309.30 497.30,309.30 497.55,309.30 497.80,309.30 498.05,309.30 498.30,309.30 498.55,309.30 498.80,309.30 499.05,309.30 499.30,309.30 499.55,309.30 499.80,309.30 500.05,309.30 500.30,309.30 500.55,309.30 500.80,309.30 501.00,309.30" fill="none" stroke="#DC101C" stroke-width="2.3" stroke-linejoin="round" stroke-linecap="round"/>
<polyline points="90.15,48.00 90.40,58.00 90.65,63.33 90.90,67.23 91.15,70.70 91.40,73.99 91.65,77.00 91.90,79.79 92.15,82.44 92.40,85.04 92.65,87.63 92.90,90.14 93.15,92.49 93.40,94.58 93.65,96.33 93.90,98.03 94.15,99.67 94.40,101.02 94.65,101.85 94.90,101.85 95.15,100.35 95.40,97.73 95.65,94.61 95.90,91.60 96.15,89.32 96.40,87.84 96.65,86.39 96.90,85.07 97.15,83.96 97.40,83.17 97.65,82.81 97.90,83.03 98.15,83.89 98.40,85.22 98.65,86.86 98.90,88.65 99.15,90.42 99.40,92.00 99.65,93.61 99.90,95.49 100.15,97.51 100.40,99.54 100.65,101.46 100.90,103.14 101.15,104.46 101.40,105.28 101.65,105.48 101.90,104.77 102.15,103.25 102.40,101.15 102.65,98.70 102.90,96.15 103.15,93.73 103.40,91.67 103.65,90.04 103.90,88.32 104.15,86.60 104.40,85.02 104.65,83.74 104.90,82.92 105.15,82.71 105.40,83.00 105.65,83.65 105.90,84.58 106.15,85.71 106.40,86.96 106.65,88.24 106.90,89.50 107.15,90.85 107.40,92.35 107.65,94.08 107.90,96.08 108.15,98.42 108.40,101.20 108.65,105.06 108.90,110.12 109.15,116.42 109.40,126.01 109.65,137.35 109.90,150.43 110.15,160.92 110.40,169.64 110.65,176.09 110.90,180.84 111.15,184.74 111.40,188.23 111.65,191.71 111.90,195.11 112.15,198.34 112.40,201.43 112.65,204.41 112.90,207.27 113.15,209.94 113.40,212.55 113.65,215.20 113.90,218.00 114.15,220.96 114.40,224.05 114.65,227.32 114.90,230.87 115.15,234.71 115.40,238.70 115.65,242.68 115.90,246.57 116.15,250.75 116.40,254.99 116.65,258.88 116.90,262.04 117.15,264.29 117.40,266.41 117.65,268.41 117.90,270.22 118.15,271.76 118.40,272.95 118.65,273.73 118.90,274.00 119.15,273.75 119.40,273.08 119.65,272.11 119.90,270.94 120.15,269.68 120.40,268.46 120.65,267.31 120.90,266.04 121.15,264.66 121.40,263.22 121.65,261.74 121.90,260.27 122.15,258.85 122.40,257.51 122.65,256.25 122.90,254.97 123.15,253.69 123.40,252.44 123.65,251.24 123.90,250.13 124.15,249.14 124.40,248.29 124.65,247.58 124.90,246.88 125.15,246.19 125.40,245.56 125.65,245.01 125.90,244.58 126.15,244.30 126.40,244.20 126.65,244.29 126.90,244.54 127.15,244.93 127.40,245.42 127.65,246.00 127.90,246.64 128.15,247.32 128.40,248.00 128.65,248.79 128.90,249.77 129.15,250.91 129.40,252.17 129.65,253.50 129.90,254.86 130.15,256.20 130.40,257.50 130.65,258.75 130.90,260.04 131.15,261.38 131.40,262.73 131.65,264.06 131.90,265.33 132.15,266.52 132.40,267.61 132.65,268.58 132.90,269.55 133.15,270.50 133.40,271.40 133.65,272.20 133.90,272.88 134.15,273.39 134.40,273.71 134.65,273.99 134.90,274.24 135.15,274.47 135.40,274.66 135.65,274.82 135.90,274.93 136.15,274.99 136.40,274.98 136.65,274.80 136.90,274.43 137.15,273.92 137.40,273.30 137.65,272.59 137.90,271.84 138.15,271.06 138.40,270.30 138.65,269.54 138.90,268.67 139.15,267.70 139.40,266.67 139.65,265.59 139.90,264.50 140.15,263.42 140.40,262.39 140.65,261.41 140.90,260.39 141.15,259.36 141.40,258.32 141.65,257.32 141.90,256.38 142.15,255.52 142.40,254.77 142.65,254.12 142.90,253.49 143.15,252.89 143.40,252.33 143.65,251.84 143.90,251.43 144.15,251.12 144.40,250.93 144.65,250.77 144.90,250.63 145.15,250.51 145.40,250.41 145.65,250.34 145.90,250.30 146.15,250.35 146.40,250.66 146.65,251.20 146.90,251.92 147.15,252.77 147.40,253.70 147.65,254.67 147.90,255.63 148.15,256.56 148.40,257.57 148.65,258.67 148.90,259.84 149.15,261.09 149.40,262.40 149.65,263.77 149.90,265.19 150.15,266.66 150.40,268.16 150.65,269.69 150.90,271.35 151.15,273.25 151.40,275.21 151.65,277.04 151.90,278.59 152.15,280.04 152.40,281.40 152.65,282.62 152.90,283.65 153.15,284.48 153.40,285.24 153.65,285.94 153.90,286.55 154.15,287.06 154.40,287.47 154.65,287.78 154.90,288.06 155.15,288.32 155.40,288.55 155.65,288.74 155.90,288.88 156.15,288.97 156.40,289.01 156.65,289.03 156.90,289.04 157.15,289.05 157.40,289.06 157.65,289.07 157.90,289.08 158.15,289.10 158.40,289.12 158.65,289.17 158.90,289.23 159.15,289.30 159.40,289.39 159.65,289.49 159.90,289.60 160.15,289.77 160.40,290.01 160.65,290.32 160.90,290.67 161.15,291.05 161.40,291.44 161.65,291.84 161.90,292.30 162.15,292.80 162.40,293.33 162.65,293.86 162.90,294.39 163.15,294.91 163.40,295.42 163.65,295.95 163.90,296.47 164.15,296.99 164.40,297.50 164.65,298.00 164.90,298.51 165.15,299.02 165.40,299.54 165.65,300.05 165.90,300.54 166.15,301.03 166.40,301.49 166.65,301.93 166.90,302.34 167.15,302.73 167.40,303.11 167.65,303.48 167.90,303.85 168.15,304.20 168.40,304.55 168.65,304.88 168.90,305.20 169.15,305.49 169.40,305.77 169.65,306.03 169.90,306.26 170.15,306.46 170.40,306.65 170.65,306.83 170.90,307.01 171.15,307.18 171.40,307.35 171.65,307.51 171.90,307.67 172.15,307.83 172.40,307.97 172.65,308.11 172.90,308.25 173.15,308.37 173.40,308.49 173.65,308.59 173.90,308.69 174.15,308.77 174.40,308.85 174.65,308.91 174.90,308.96 175.15,308.99 175.40,309.02 175.65,309.05 175.90,309.07 176.15,309.10 176.40,309.12 176.65,309.14 176.90,309.16 177.15,309.18 177.40,309.20 177.65,309.22 177.90,309.24 178.15,309.25 178.40,309.26 178.65,309.27 178.90,309.28 179.15,309.29 179.40,309.29 179.65,309.30 179.90,309.30 180.15,309.30 180.40,309.30 180.65,309.30 180.90,309.30 181.15,309.30 181.40,309.30 181.65,309.30 181.90,309.30 182.15,309.30 182.40,309.30 182.65,309.30 182.90,309.30 183.15,309.30 183.40,309.30 183.65,309.30 183.90,309.30 184.15,309.30 184.40,309.30 184.65,309.30 184.90,309.30 185.15,309.30 185.40,309.30 185.65,309.30 185.90,309.30 186.15,309.30 186.40,309.30 186.65,309.30 186.90,309.30 187.15,309.30 187.40,309.30 187.65,309.30 187.90,309.30 188.15,309.30 188.40,309.30 188.65,309.30 188.90,309.30 189.15,309.30 189.40,309.30 189.65,309.30 189.90,309.30 190.15,309.30 190.40,309.30 190.65,309.30 190.90,309.30 191.15,309.30 191.40,309.30 191.65,309.30 191.90,309.30 192.15,309.30 192.40,309.30 192.65,309.30 192.90,309.30 193.15,309.30 193.40,309.30 193.65,309.30 193.90,309.30 194.15,309.30 194.40,309.30 194.65,309.30 194.90,309.30 195.15,309.30 195.40,309.30 195.65,309.30 195.90,309.30 196.15,309.30 196.40,309.30 196.65,309.30 196.90,309.30 197.15,309.30 197.40,309.30 197.65,309.30 197.90,309.30 198.15,309.30 198.40,309.30 198.65,309.30 198.90,309.30 199.15,309.30 199.40,309.30 199.65,309.30 199.90,309.30 200.15,309.30 200.40,309.30 200.65,309.30 200.90,309.30 201.15,309.30 201.40,309.30 201.65,309.30 201.90,309.30 202.15,309.30 202.40,309.30 202.65,309.30 202.90,309.30 203.15,309.30 203.40,309.30 203.65,309.30 203.90,309.30 204.15,309.30 204.40,309.30 204.65,309.30 204.90,309.30 205.15,309.30 205.40,309.30 205.65,309.30 205.90,309.30 206.15,309.30 206.40,309.30 206.65,309.30 206.90,309.30 207.15,309.30 207.40,309.30 207.65,309.30 207.90,309.30 208.15,309.30 208.40,309.30 208.65,309.30 208.90,309.30 209.15,309.30 209.40,309.30 209.65,309.30 209.90,309.30 210.15,309.30 210.40,309.30 210.65,309.30 210.90,309.30 211.15,309.30 211.40,309.30 211.65,309.30 211.90,309.30 212.15,309.30 212.40,309.30 212.65,309.30 212.90,309.30 213.15,309.30 213.40,309.30 213.65,309.30 213.90,309.30 214.15,309.30 214.40,309.30 214.65,309.30 214.90,309.30 215.15,309.30 215.40,309.30 215.65,309.30 215.90,309.30 216.15,309.30 216.40,309.30 216.65,309.30 216.90,309.30 217.15,309.30 217.40,309.30 217.65,309.30 217.90,309.30 218.15,309.30 218.40,309.30 218.65,309.30 218.90,309.30 219.15,309.30 219.40,309.30 219.65,309.30 219.90,309.30 220.15,309.30 220.40,309.30 220.65,309.30 220.90,309.30 221.15,309.30 221.40,309.30 221.65,309.30 221.90,309.30 222.15,309.30 222.40,309.30 222.65,309.30 222.90,309.30 223.15,309.30 223.40,309.30 223.65,309.30 223.90,309.30 224.15,309.30 224.40,309.30 224.65,309.30 224.90,309.30 225.15,309.30 225.40,309.30 225.65,309.30 225.90,309.30 226.15,309.30 226.40,309.30 226.65,309.30 226.90,309.30 227.15,309.30 227.40,309.30 227.65,309.30 227.90,309.30 228.15,309.30 228.40,309.30 228.65,309.30 228.90,309.30 229.15,309.30 229.40,309.30 229.65,309.30 229.90,309.30 230.15,309.30 230.40,309.30 230.65,309.30 230.90,309.30 231.15,309.30 231.40,309.30 231.65,309.30 231.90,309.30 232.15,309.30 232.40,309.30 232.65,309.30 232.90,309.30 233.15,309.30 233.40,309.30 233.65,309.30 233.90,309.30 234.15,309.30 234.40,309.30 234.65,309.30 234.90,309.30 235.15,309.30 235.40,309.30 235.65,309.30 235.90,309.30 236.15,309.30 236.40,309.30 236.65,309.30 236.90,309.30 237.15,309.30 237.40,309.30 237.65,309.30 237.90,309.30 238.15,309.30 238.40,309.30 238.65,309.30 238.90,309.30 239.15,309.30 239.40,309.30 239.65,309.30 239.90,309.30 240.15,309.30 240.40,309.30 240.65,309.30 240.90,309.30 241.15,309.30 241.40,309.30 241.65,309.30 241.90,309.30 242.15,309.30 242.40,309.30 242.65,309.30 242.90,309.30 243.15,309.30 243.40,309.30 243.65,309.30 243.90,309.30 244.15,309.30 244.40,309.30 244.65,309.30 244.90,309.30 245.15,309.30 245.40,309.30 245.65,309.30 245.90,309.30 246.15,309.30 246.40,309.30 246.65,309.30 246.90,309.30 247.15,309.30 247.40,309.30 247.65,309.30 247.90,309.30 248.15,309.30 248.40,309.30 248.65,309.30 248.90,309.30 249.15,309.30 249.40,309.30 249.65,309.30 249.90,309.30 250.15,309.30 250.40,309.30 250.65,309.30 250.90,309.30 251.15,309.30 251.40,309.30 251.65,309.30 251.90,309.30 252.15,309.30 252.40,309.30 252.65,309.30 252.90,309.30 253.15,309.30 253.40,309.30 253.65,309.30 253.90,309.30 254.15,309.30 254.40,309.30 254.65,309.30 254.90,309.30 255.15,309.30 255.40,309.30 255.65,309.30 255.90,309.30 256.15,309.30 256.40,309.30 256.65,309.30 256.90,309.30 257.15,309.30 257.40,309.30 257.65,309.30 257.90,309.30 258.15,309.30 258.40,309.30 258.65,309.30 258.90,309.30 259.15,309.30 259.40,309.30 259.65,309.30 259.90,309.30 260.15,309.30 260.40,309.30 260.65,309.30 260.90,309.30 261.15,309.30 261.40,309.30 261.65,309.30 261.90,309.30 262.15,309.30 262.40,309.30 262.65,309.30 262.90,309.30 263.15,309.30 263.40,309.30 263.65,309.30 263.90,309.30 264.15,309.30 264.40,309.30 264.65,309.30 264.90,309.30 265.15,309.30 265.40,309.30 265.65,309.30 265.90,309.30 266.15,309.30 266.40,309.30 266.65,309.30 266.90,309.30 267.15,309.30 267.40,309.30 267.65,309.30 267.90,309.30 268.15,309.30 268.40,309.30 268.65,309.30 268.90,309.30 269.15,309.30 269.40,309.30 269.65,309.30 269.90,309.30 270.15,309.30 270.40,309.30 270.65,309.30 270.90,309.30 271.15,309.30 271.40,309.30 271.65,309.30 271.90,309.30 272.15,309.30 272.40,309.30 272.65,309.30 272.90,309.30 273.15,309.30 273.40,309.30 273.65,309.30 273.90,309.30 274.15,309.30 274.40,309.30 274.65,309.30 274.90,309.30 275.15,309.30 275.40,309.30 275.65,309.30 275.90,309.30 276.15,309.30 276.40,309.30 276.65,309.30 276.90,309.30 277.15,309.30 277.40,309.30 277.65,309.30 277.90,309.30 278.15,309.30 278.40,309.30 278.65,309.30 278.90,309.30 279.15,309.30 279.40,309.30 279.65,309.30 279.90,309.30 280.15,309.30 280.40,309.30 280.65,309.30 280.90,309.30 281.15,309.30 281.40,309.30 281.65,309.30 281.90,309.30 282.15,309.30 282.40,309.30 282.65,309.30 282.90,309.30 283.15,309.30 283.40,309.30 283.65,309.30 283.90,309.30 284.15,309.30 284.40,309.30 284.65,309.30 284.90,309.30 285.15,309.30 285.40,309.30 285.65,309.30 285.90,309.30 286.15,309.30 286.40,309.30 286.65,309.30 286.90,309.30 287.15,309.30 287.40,309.30 287.65,309.30 287.90,309.30 288.15,309.30 288.40,309.30 288.65,309.30 288.90,309.30 289.15,309.30 289.40,309.30 289.65,309.30 289.90,309.30 290.15,309.30 290.40,309.30 290.65,309.30 290.90,309.30 291.15,309.30 291.40,309.30 291.65,309.30 291.90,309.30 292.15,309.30 292.40,309.30 292.65,309.30 292.90,309.30 293.15,309.30 293.40,309.30 293.65,309.30 293.90,309.30 294.15,309.30 294.40,309.30 294.65,309.30 294.90,309.30 295.15,309.30 295.40,309.30 295.65,309.30 295.90,309.30 296.15,309.30 296.40,309.30 296.65,309.30 296.90,309.30 297.15,309.30 297.40,309.30 297.65,309.30 297.90,309.30 298.15,309.30 298.40,309.30 298.65,309.30 298.90,309.30 299.15,309.30 299.40,309.30 299.65,309.30 299.90,309.30 300.15,309.30 300.40,309.30 300.65,309.30 300.90,309.30 301.15,309.30 301.40,309.30 301.65,309.30 301.90,309.30 302.15,309.30 302.40,309.30 302.65,309.30 302.90,309.30 303.15,309.30 303.40,309.30 303.65,309.30 303.90,309.30 304.15,309.30 304.40,309.30 304.65,309.30 304.90,309.30 305.15,309.30 305.40,309.30 305.65,309.30 305.90,309.30 306.15,309.30 306.40,309.30 306.65,309.30 306.90,309.30 307.15,309.30 307.40,309.30 307.65,309.30 307.90,309.30 308.15,309.30 308.40,309.30 308.65,309.30 308.90,309.30 309.15,309.30 309.40,309.30 309.65,309.30 309.90,309.30 310.15,309.30 310.40,309.30 310.65,309.30 310.90,309.30 311.15,309.30 311.40,309.30 311.65,309.30 311.90,309.30 312.15,309.30 312.40,309.30 312.65,309.30 312.90,309.30 313.15,309.30 313.40,309.30 313.65,309.30 313.90,309.30 314.15,309.30 314.40,309.30 314.65,309.30 314.90,309.30 315.15,309.30 315.40,309.30 315.65,309.30 315.90,309.30 316.15,309.30 316.40,309.30 316.65,309.30 316.90,309.30 317.15,309.30 317.40,309.30 317.65,309.30 317.90,309.30 318.15,309.30 318.40,309.30 318.65,309.30 318.90,309.30 319.15,309.30 319.40,309.30 319.65,309.30 319.90,309.30 320.15,309.30 320.40,309.30 320.65,309.30 320.90,309.30 321.15,309.30 321.40,309.30 321.65,309.30 321.90,309.30 322.15,309.30 322.40,309.30 322.65,309.30 322.90,309.30 323.15,309.30 323.40,309.30 323.65,309.30 323.90,309.30 324.15,309.30 324.40,309.30 324.65,309.30 324.90,309.30 325.15,309.30 325.40,309.30 325.65,309.30 325.90,309.30 326.15,309.30 326.40,309.30 326.65,309.30 326.90,309.30 327.15,309.30 327.40,309.30 327.65,309.30 327.90,309.30 328.15,309.30 328.40,309.30 328.65,309.30 328.90,309.30 329.15,309.30 329.40,309.30 329.65,309.30 329.90,309.30 330.15,309.30 330.40,309.30 330.65,309.30 330.90,309.30 331.15,309.30 331.40,309.30 331.65,309.30 331.90,309.30 332.15,309.30 332.40,309.30 332.65,309.30 332.90,309.30 333.15,309.30 333.40,309.30 333.65,309.30 333.90,309.30 334.15,309.30 334.40,309.30 334.65,309.30 334.90,309.30 335.15,309.30 335.40,309.30 335.65,309.30 335.90,309.30 336.15,309.30 336.40,309.30 336.65,309.30 336.90,309.30 337.15,309.30 337.40,309.30 337.65,309.30 337.90,309.30 338.15,309.30 338.40,309.30 338.65,309.30 338.90,309.30 339.15,309.30 339.40,309.30 339.65,309.30 339.90,309.30 340.15,309.30 340.40,309.30 340.65,309.30 340.90,309.30 341.15,309.30 341.40,309.30 341.65,309.30 341.90,309.30 342.15,309.30 342.40,309.30 342.65,309.30 342.90,309.30 343.15,309.30 343.40,309.30 343.65,309.30 343.90,309.30 344.15,309.30 344.40,309.30 344.65,309.30 344.90,309.30 345.15,309.30 345.40,309.30 345.65,309.30 345.90,309.30 346.15,309.30 346.40,309.30 346.65,309.30 346.90,309.30 347.15,309.30 347.40,309.30 347.65,309.30 347.90,309.30 348.15,309.30 348.40,309.30 348.65,309.30 348.90,309.30 349.15,309.30 349.40,309.30 349.65,309.30 349.90,309.30 350.15,309.30 350.40,309.30 350.65,309.30 350.90,309.30 351.15,309.30 351.40,309.30 351.65,309.30 351.90,309.30 352.15,309.30 352.40,309.30 352.65,309.30 352.90,309.30 353.15,309.30 353.40,309.30 353.65,309.30 353.90,309.30 354.15,309.30 354.40,309.30 354.65,309.30 354.90,309.30 355.15,309.30 355.40,309.30 355.65,309.30 355.90,309.30 356.15,309.30 356.40,309.30 356.65,309.30 356.90,309.30 357.15,309.30 357.40,309.30 357.65,309.30 357.90,309.30 358.15,309.30 358.40,309.30 358.65,309.30 358.90,309.30 359.15,309.30 359.40,309.30 359.65,309.30 359.90,309.30 360.15,309.30 360.40,309.30 360.65,309.30 360.90,309.30 361.15,309.30 361.40,309.30 361.65,309.30 361.90,309.30 362.15,309.30 362.40,309.30 362.65,309.30 362.90,309.30 363.15,309.30 363.40,309.30 363.65,309.30 363.90,309.30 364.15,309.30 364.40,309.30 364.65,309.30 364.90,309.30 365.15,309.30 365.40,309.30 365.65,309.30 365.90,309.30 366.15,309.30 366.40,309.30 366.65,309.30 366.90,309.30 367.15,309.30 367.40,309.30 367.65,309.30 367.90,309.30 368.15,309.30 368.40,309.30 368.65,309.30 368.90,309.30 369.15,309.30 369.40,309.30 369.65,309.30 369.90,309.30 370.15,309.30 370.40,309.30 370.65,309.30 370.90,309.30 371.15,309.30 371.40,309.30 371.65,309.30 371.90,309.30 372.15,309.30 372.40,309.30 372.65,309.30 372.90,309.30 373.15,309.30 373.40,309.30 373.65,309.30 373.90,309.30 374.15,309.30 374.40,309.30 374.65,309.30 374.90,309.30 375.15,309.30 375.40,309.30 375.65,309.30 375.90,309.30 376.15,309.30 376.40,309.30 376.65,309.30 376.90,309.30 377.15,309.30 377.40,309.30 377.65,309.30 377.90,309.30 378.15,309.30 378.40,309.30 378.65,309.30 378.90,309.30 379.15,309.30 379.40,309.30 379.65,309.30 379.90,309.30 380.15,309.30 380.40,309.30 380.65,309.30 380.90,309.30 381.15,309.30 381.40,309.30 381.65,309.30 381.90,309.30 382.15,309.30 382.40,309.30 382.65,309.30 382.90,309.30 383.15,309.30 383.40,309.30 383.65,309.30 383.90,309.30 384.15,309.30 384.40,309.30 384.65,309.30 384.90,309.30 385.15,309.30 385.40,309.30 385.65,309.30 385.90,309.30 386.15,309.30 386.40,309.30 386.65,309.30 386.90,309.30 387.15,309.30 387.40,309.30 387.65,309.30 387.90,309.30 388.15,309.30 388.40,309.30 388.65,309.30 388.90,309.30 389.15,309.30 389.40,309.30 389.65,309.30 389.90,309.30 390.15,309.30 390.40,309.30 390.65,309.30 390.90,309.30 391.15,309.30 391.40,309.30 391.65,309.30 391.90,309.30 392.15,309.30 392.40,309.30 392.65,309.30 392.90,309.30 393.15,309.30 393.40,309.30 393.65,309.30 393.90,309.30 394.15,309.30 394.40,309.30 394.65,309.30 394.90,309.30 395.15,309.30 395.40,309.30 395.65,309.30 395.90,309.30 396.15,309.30 396.40,309.30 396.65,309.30 396.90,309.30 397.15,309.30 397.40,309.30 397.65,309.30 397.90,309.30 398.15,309.30 398.40,309.30 398.65,309.30 398.90,309.30 399.15,309.30 399.40,309.30 399.65,309.30 399.90,309.30 400.15,309.30 400.40,309.30 400.65,309.30 400.90,309.30 401.15,309.30 401.40,309.30 401.65,309.30 401.90,309.30 402.15,309.30 402.40,309.30 402.65,309.30 402.90,309.30 403.15,309.30 403.40,309.30 403.65,309.30 403.90,309.30 404.15,309.30 404.40,309.30 404.65,309.30 404.90,309.30 405.15,309.30 405.40,309.30 405.65,309.30 405.90,309.30 406.15,309.30 406.40,309.30 406.65,309.30 406.90,309.30 407.15,309.30 407.40,309.30 407.65,309.30 407.90,309.30 408.15,309.30 408.40,309.30 408.65,309.30 408.90,309.30 409.15,309.30 409.40,309.30 409.65,309.30 409.90,309.30 410.15,309.30 410.40,309.30 410.65,309.30 410.90,309.30 411.15,309.30 411.40,309.30 411.65,309.30 411.90,309.30 412.15,309.30 412.40,309.30 412.65,309.30 412.90,309.30 413.15,309.30 413.40,309.30 413.65,309.30 413.90,309.30 414.15,309.30 414.40,309.30 414.65,309.30 414.90,309.30 415.15,309.30 415.40,309.30 415.65,309.30 415.90,309.30 416.15,309.30 416.40,309.30 416.65,309.30 416.90,309.30 417.15,309.30 417.40,309.30 417.65,309.30 417.90,309.30 418.15,309.30 418.40,309.30 418.65,309.30 418.90,309.30 419.15,309.30 419.40,309.30 419.65,309.30 419.90,309.30 420.15,309.30 420.40,309.30 420.65,309.30 420.90,309.30 421.15,309.30 421.40,309.30 421.65,309.30 421.90,309.30 422.15,309.30 422.40,309.30 422.65,309.30 422.90,309.30 423.15,309.30 423.40,309.30 423.65,309.30 423.90,309.30 424.15,309.30 424.40,309.30 424.65,309.30 424.90,309.30 425.15,309.30 425.40,309.30 425.65,309.30 425.90,309.30 426.15,309.30 426.40,309.30 426.65,309.30 426.90,309.30 427.15,309.30 427.40,309.30 427.65,309.30 427.90,309.30 428.15,309.30 428.40,309.30 428.65,309.30 428.90,309.30 429.15,309.30 429.40,309.30 429.65,309.30 429.90,309.30 430.15,309.30 430.40,309.30 430.65,309.30 430.90,309.30 431.15,309.30 431.40,309.30 431.65,309.30 431.90,309.30 432.15,309.30 432.40,309.30 432.65,309.30 432.90,309.30 433.15,309.30 433.40,309.30 433.65,309.30 433.90,309.30 434.15,309.30 434.40,309.30 434.65,309.30 434.90,309.30 435.15,309.30 435.40,309.30 435.65,309.30 435.90,309.30 436.15,309.30 436.40,309.30 436.65,309.30 436.90,309.30 437.15,309.30 437.40,309.30 437.65,309.30 437.90,309.30 438.15,309.30 438.40,309.30 438.65,309.30 438.90,309.30 439.15,309.30 439.40,309.30 439.65,309.30 439.90,309.30 440.15,309.30 440.40,309.30 440.65,309.30 440.90,309.30 441.15,309.30 441.40,309.30 441.65,309.30 441.90,309.30 442.15,309.30 442.40,309.30 442.65,309.30 442.90,309.30 443.15,309.30 443.40,309.30 443.65,309.30 443.90,309.30 444.15,309.30 444.40,309.30 444.65,309.30 444.90,309.30 445.15,309.30 445.40,309.30 445.65,309.30 445.90,309.30 446.15,309.30 446.40,309.30 446.65,309.30 446.90,309.30 447.15,309.30 447.40,309.30 447.65,309.30 447.90,309.30 448.15,309.30 448.40,309.30 448.65,309.30 448.90,309.30 449.15,309.30 449.40,309.30 449.65,309.30 449.90,309.30 450.15,309.30 450.40,309.30 450.65,309.30 450.90,309.30 451.15,309.30 451.40,309.30 451.65,309.30 451.90,309.30 452.15,309.30 452.40,309.30 452.65,309.30 452.90,309.30 453.15,309.30 453.40,309.30 453.65,309.30 453.90,309.30 454.15,309.30 454.40,309.30 454.65,309.30 454.90,309.30 455.15,309.30 455.40,309.30 455.65,309.30 455.90,309.30 456.15,309.30 456.40,309.30 456.65,309.30 456.90,309.30 457.15,309.30 457.40,309.30 457.65,309.30 457.90,309.30 458.15,309.30 458.40,309.30 458.65,309.30 458.90,309.30 459.15,309.30 459.40,309.30 459.65,309.30 459.90,309.30 460.15,309.30 460.40,309.30 460.65,309.30 460.90,309.30 461.15,309.30 461.40,309.30 461.65,309.30 461.90,309.30 462.15,309.30 462.40,309.30 462.65,309.30 462.90,309.30 463.15,309.30 463.40,309.30 463.65,309.30 463.90,309.30 464.15,309.30 464.40,309.30 464.65,309.30 464.90,309.30 465.15,309.30 465.40,309.30 465.65,309.30 465.90,309.30 466.15,309.30 466.40,309.30 466.65,309.30 466.90,309.30 467.15,309.30 467.40,309.30 467.65,309.30 467.90,309.30 468.15,309.30 468.40,309.30 468.65,309.30 468.90,309.30 469.15,309.30 469.40,309.30 469.65,309.30 469.90,309.30 470.15,309.30 470.40,309.30 470.65,309.30 470.90,309.30 471.15,309.30 471.40,309.30 471.65,309.30 471.90,309.30 472.15,309.30 472.40,309.30 472.65,309.30 472.90,309.30 473.15,309.30 473.40,309.30 473.65,309.30 473.90,309.30 474.15,309.30 474.40,309.30 474.65,309.30 474.90,309.30 475.15,309.30 475.40,309.30 475.65,309.30 475.90,309.30 476.15,309.30 476.40,309.30 476.65,309.30 476.90,309.30 477.15,309.30 477.40,309.30 477.65,309.30 477.90,309.30 478.15,309.30 478.40,309.30 478.65,309.30 478.90,309.30 479.15,309.30 479.40,309.30 479.65,309.30 479.90,309.30 480.15,309.30 480.40,309.30 480.65,309.30 480.90,309.30 481.15,309.30 481.40,309.30 481.65,309.30 481.90,309.30 482.15,309.30 482.40,309.30 482.65,309.30 482.90,309.30 483.15,309.30 483.40,309.30 483.65,309.30 483.90,309.30 484.15,309.30 484.40,309.30 484.65,309.30 484.90,309.30 485.15,309.30 485.40,309.30 485.65,309.30 485.90,309.30 486.15,309.30 486.40,309.30 486.65,309.30 486.90,309.30 487.15,309.30 487.40,309.30 487.65,309.30 487.90,309.30 488.15,309.30 488.40,309.30 488.65,309.30 488.90,309.30 489.15,309.30 489.40,309.30 489.65,309.30 489.90,309.30 490.15,309.30 490.40,309.30 490.65,309.30 490.90,309.30 491.15,309.30 491.40,309.30 491.65,309.30 491.90,309.30 492.15,309.30 492.40,309.30 492.65,309.30 492.90,309.30 493.15,309.30 493.40,309.30 493.65,309.30 493.90,309.30 494.15,309.30 494.40,309.30 494.65,309.30 494.90,309.30 495.15,309.30 495.40,309.30 495.65,309.30 495.90,309.30 496.15,309.30 496.40,309.30 496.65,309.30 496.90,309.30 497.15,309.30 497.40,309.30 497.65,309.30 497.90,309.30 498.15,309.30 498.40,309.30 498.65,309.30 498.90,309.30 499.15,309.30 499.40,309.30 499.65,309.30 499.90,309.30 500.15,309.30 500.40,309.30 500.65,309.30 500.90,309.30 501.00,309.30" fill="none" stroke="#1212D8" stroke-width="2.3" stroke-linejoin="round" stroke-linecap="round"/>
<polyline points="90.15,58.00 90.40,70.37 90.65,82.40 90.90,93.61 91.15,97.94 91.40,100.26 91.65,101.77 91.90,102.83 92.15,103.82 92.40,105.09 92.65,107.03 92.90,110.00 93.15,118.61 93.40,128.61 93.65,137.34 93.90,146.23 94.15,156.27 94.40,167.42 94.65,176.57 94.90,184.01 95.15,190.34 95.40,195.00 95.65,197.95 95.90,200.08 96.15,202.17 96.40,205.00 96.65,209.47 96.90,215.00 97.15,221.56 97.40,226.69 97.65,230.13 97.90,233.23 98.15,236.10 98.40,238.87 98.65,241.68 98.90,244.35 99.15,247.00 99.40,249.80 99.65,252.91 99.90,256.62 100.15,261.61 100.40,266.76 100.65,270.63 100.90,273.60 101.15,276.23 101.40,278.55 101.65,280.59 101.90,282.36 102.15,283.91 102.40,285.36 102.65,286.71 102.90,287.95 103.15,289.08 103.40,290.09 103.65,290.98 103.90,291.74 104.15,292.37 104.40,292.96 104.65,293.52 104.90,294.02 105.15,294.47 105.40,294.86 105.65,295.18 105.90,295.42 106.15,295.60 106.40,295.77 106.65,295.92 106.90,296.06 107.15,296.18 107.40,296.27 107.65,296.35 107.90,296.39 108.15,296.40 108.40,296.32 108.65,296.15 108.90,295.90 109.15,295.57 109.40,295.17 109.65,294.73 109.90,294.25 110.15,293.74 110.40,293.21 110.65,292.63 110.90,291.84 111.15,290.87 111.40,289.78 111.65,288.63 111.90,287.47 112.15,286.36 112.40,285.36 112.65,284.48 112.90,283.59 113.15,282.70 113.40,281.83 113.65,281.02 113.90,280.28 114.15,279.65 114.40,279.16 114.65,278.79 114.90,278.44 115.15,278.12 115.40,277.83 115.65,277.59 115.90,277.42 116.15,277.32 116.40,277.31 116.65,277.40 116.90,277.58 117.15,277.82 117.40,278.13 117.65,278.47 117.90,278.85 118.15,279.27 118.40,279.86 118.65,280.62 118.90,281.52 119.15,282.53 119.40,283.64 119.65,284.82 119.90,286.05 120.15,287.30 120.40,288.54 120.65,289.76 120.90,291.02 121.15,292.43 121.40,293.95 121.65,295.50 121.90,297.00 122.15,298.38 122.40,299.59 122.65,300.58 122.90,301.51 123.15,302.40 123.40,303.22 123.65,303.99 123.90,304.68 124.15,305.29 124.40,305.82 124.65,306.26 124.90,306.67 125.15,307.05 125.40,307.40 125.65,307.71 125.90,307.99 126.15,308.23 126.40,308.43 126.65,308.60 126.90,308.76 127.15,308.91 127.40,309.05 127.65,309.16 127.90,309.24 128.15,309.29 128.40,309.30 128.65,309.30 128.90,309.30 129.15,309.30 129.40,309.30 129.65,309.30 129.90,309.30 130.15,309.30 130.40,309.30 130.65,309.30 130.90,309.30 131.15,309.30 131.40,309.30 131.65,309.30 131.90,309.30 132.15,309.30 132.40,309.30 132.65,309.30 132.90,309.30 133.15,309.30 133.40,309.30 133.65,309.30 133.90,309.30 134.15,309.30 134.40,309.30 134.65,309.30 134.90,309.30 135.15,309.30 135.40,309.30 135.65,309.30 135.90,309.30 136.15,309.30 136.40,309.30 136.65,309.30 136.90,309.30 137.15,309.30 137.40,309.30 137.65,309.30 137.90,309.30 138.15,309.30 138.40,309.30 138.65,309.30 138.90,309.30 139.15,309.30 139.40,309.30 139.65,309.30 139.90,309.30 140.15,309.30 140.40,309.30 140.65,309.30 140.90,309.30 141.15,309.30 141.40,309.30 141.65,309.30 141.90,309.30 142.15,309.30 142.40,309.30 142.65,309.30 142.90,309.30 143.15,309.30 143.40,309.30 143.65,309.30 143.90,309.30 144.15,309.30 144.40,309.30 144.65,309.30 144.90,309.30 145.15,309.30 145.40,309.30 145.65,309.30 145.90,309.30 146.15,309.30 146.40,309.30 146.65,309.30 146.90,309.30 147.15,309.30 147.40,309.30 147.65,309.30 147.90,309.30 148.15,309.30 148.40,309.30 148.65,309.30 148.90,309.30 149.15,309.30 149.40,309.30 149.65,309.30 149.90,309.30 150.15,309.30 150.40,309.30 150.65,309.30 150.90,309.30 151.15,309.30 151.40,309.30 151.65,309.30 151.90,309.30 152.15,309.30 152.40,309.30 152.65,309.30 152.90,309.30 153.15,309.30 153.40,309.30 153.65,309.30 153.90,309.30 154.15,309.30 154.40,309.30 154.65,309.30 154.90,309.30 155.15,309.30 155.40,309.30 155.65,309.30 155.90,309.30 156.15,309.30 156.40,309.30 156.65,309.30 156.90,309.30 157.15,309.30 157.40,309.30 157.65,309.30 157.90,309.30 158.15,309.30 158.40,309.30 158.65,309.30 158.90,309.30 159.15,309.30 159.40,309.30 159.65,309.30 159.90,309.30 160.15,309.30 160.40,309.30 160.65,309.30 160.90,309.30 161.15,309.30 161.40,309.30 161.65,309.30 161.90,309.30 162.15,309.30 162.40,309.30 162.65,309.30 162.90,309.30 163.15,309.30 163.40,309.30 163.65,309.30 163.90,309.30 164.15,309.30 164.40,309.30 164.65,309.30 164.90,309.30 165.15,309.30 165.40,309.30 165.65,309.30 165.90,309.30 166.15,309.30 166.40,309.30 166.65,309.30 166.90,309.30 167.15,309.30 167.40,309.30 167.65,309.30 167.90,309.30 168.15,309.30 168.40,309.30 168.65,309.30 168.90,309.30 169.15,309.30 169.40,309.30 169.65,309.30 169.90,309.30 170.15,309.30 170.40,309.30 170.65,309.30 170.90,309.30 171.15,309.30 171.40,309.30 171.65,309.30 171.90,309.30 172.15,309.30 172.40,309.30 172.65,309.30 172.90,309.30 173.15,309.30 173.40,309.30 173.65,309.30 173.90,309.30 174.15,309.30 174.40,309.30 174.65,309.30 174.90,309.30 175.15,309.30 175.40,309.30 175.65,309.30 175.90,309.30 176.15,309.30 176.40,309.30 176.65,309.30 176.90,309.30 177.15,309.30 177.40,309.30 177.65,309.30 177.90,309.30 178.15,309.30 178.40,309.30 178.65,309.30 178.90,309.30 179.15,309.30 179.40,309.30 179.65,309.30 179.90,309.30 180.15,309.30 180.40,309.30 180.65,309.30 180.90,309.30 181.15,309.30 181.40,309.30 181.65,309.30 181.90,309.30 182.15,309.30 182.40,309.30 182.65,309.30 182.90,309.30 183.15,309.30 183.40,309.30 183.65,309.30 183.90,309.30 184.15,309.30 184.40,309.30 184.65,309.30 184.90,309.30 185.15,309.30 185.40,309.30 185.65,309.30 185.90,309.30 186.15,309.30 186.40,309.30 186.65,309.30 186.90,309.30 187.15,309.30 187.40,309.30 187.65,309.30 187.90,309.30 188.15,309.30 188.40,309.30 188.65,309.30 188.90,309.30 189.15,309.30 189.40,309.30 189.65,309.30 189.90,309.30 190.15,309.30 190.40,309.30 190.65,309.30 190.90,309.30 191.15,309.30 191.40,309.30 191.65,309.30 191.90,309.30 192.15,309.30 192.40,309.30 192.65,309.30 192.90,309.30 193.15,309.30 193.40,309.30 193.65,309.30 193.90,309.30 194.15,309.30 194.40,309.30 194.65,309.30 194.90,309.30 195.15,309.30 195.40,309.30 195.65,309.30 195.90,309.30 196.15,309.30 196.40,309.30 196.65,309.30 196.90,309.30 197.15,309.30 197.40,309.30 197.65,309.30 197.90,309.30 198.15,309.30 198.40,309.30 198.65,309.30 198.90,309.30 199.15,309.30 199.40,309.30 199.65,309.30 199.90,309.30 200.15,309.30 200.40,309.30 200.65,309.30 200.90,309.30 201.15,309.30 201.40,309.30 201.65,309.30 201.90,309.30 202.15,309.30 202.40,309.30 202.65,309.30 202.90,309.30 203.15,309.30 203.40,309.30 203.65,309.30 203.90,309.30 204.15,309.30 204.40,309.30 204.65,309.30 204.90,309.30 205.15,309.30 205.40,309.30 205.65,309.30 205.90,309.30 206.15,309.30 206.40,309.30 206.65,309.30 206.90,309.30 207.15,309.30 207.40,309.30 207.65,309.30 207.90,309.30 208.15,309.30 208.40,309.30 208.65,309.30 208.90,309.30 209.15,309.30 209.40,309.30 209.65,309.30 209.90,309.30 210.15,309.30 210.40,309.30 210.65,309.30 210.90,309.30 211.15,309.30 211.40,309.30 211.65,309.30 211.90,309.30 212.15,309.30 212.40,309.30 212.65,309.30 212.90,309.30 213.15,309.30 213.40,309.30 213.65,309.30 213.90,309.30 214.15,309.30 214.40,309.30 214.65,309.30 214.90,309.30 215.15,309.30 215.40,309.30 215.65,309.30 215.90,309.30 216.15,309.30 216.40,309.30 216.65,309.30 216.90,309.30 217.15,309.30 217.40,309.30 217.65,309.30 217.90,309.30 218.15,309.30 218.40,309.30 218.65,309.30 218.90,309.30 219.15,309.30 219.40,309.30 219.65,309.30 219.90,309.30 220.15,309.30 220.40,309.30 220.65,309.30 220.90,309.30 221.15,309.30 221.40,309.30 221.65,309.30 221.90,309.30 222.15,309.30 222.40,309.30 222.65,309.30 222.90,309.30 223.15,309.30 223.40,309.30 223.65,309.30 223.90,309.30 224.15,309.30 224.40,309.30 224.65,309.30 224.90,309.30 225.15,309.30 225.40,309.30 225.65,309.30 225.90,309.30 226.15,309.30 226.40,309.30 226.65,309.30 226.90,309.30 227.15,309.30 227.40,309.30 227.65,309.30 227.90,309.30 228.15,309.30 228.40,309.30 228.65,309.30 228.90,309.30 229.15,309.30 229.40,309.30 229.65,309.30 229.90,309.30 230.15,309.30 230.40,309.30 230.65,309.30 230.90,309.30 231.15,309.30 231.40,309.30 231.65,309.30 231.90,309.30 232.15,309.30 232.40,309.30 232.65,309.30 232.90,309.30 233.15,309.30 233.40,309.30 233.65,309.30 233.90,309.30 234.15,309.30 234.40,309.30 234.65,309.30 234.90,309.30 235.15,309.30 235.40,309.30 235.65,309.30 235.90,309.30 236.15,309.30 236.40,309.30 236.65,309.30 236.90,309.30 237.15,309.30 237.40,309.30 237.65,309.30 237.90,309.30 238.15,309.30 238.40,309.30 238.65,309.30 238.90,309.30 239.15,309.30 239.40,309.30 239.65,309.30 239.90,309.30 240.15,309.30 240.40,309.30 240.65,309.30 240.90,309.30 241.15,309.30 241.40,309.30 241.65,309.30 241.90,309.30 242.15,309.30 242.40,309.30 242.65,309.30 242.90,309.30 243.15,309.30 243.40,309.30 243.65,309.30 243.90,309.30 244.15,309.30 244.40,309.30 244.65,309.30 244.90,309.30 245.15,309.30 245.40,309.30 245.65,309.30 245.90,309.30 246.15,309.30 246.40,309.30 246.65,309.30 246.90,309.30 247.15,309.30 247.40,309.30 247.65,309.30 247.90,309.30 248.15,309.30 248.40,309.30 248.65,309.30 248.90,309.30 249.15,309.30 249.40,309.30 249.65,309.30 249.90,309.30 250.15,309.30 250.40,309.30 250.65,309.30 250.90,309.30 251.15,309.30 251.40,309.30 251.65,309.30 251.90,309.30 252.15,309.30 252.40,309.30 252.65,309.30 252.90,309.30 253.15,309.30 253.40,309.30 253.65,309.30 253.90,309.30 254.15,309.30 254.40,309.30 254.65,309.30 254.90,309.30 255.15,309.30 255.40,309.30 255.65,309.30 255.90,309.30 256.15,309.30 256.40,309.30 256.65,309.30 256.90,309.30 257.15,309.30 257.40,309.30 257.65,309.30 257.90,309.30 258.15,309.30 258.40,309.30 258.65,309.30 258.90,309.30 259.15,309.30 259.40,309.30 259.65,309.30 259.90,309.30 260.15,309.30 260.40,309.30 260.65,309.30 260.90,309.30 261.15,309.30 261.40,309.30 261.65,309.30 261.90,309.30 262.15,309.30 262.40,309.30 262.65,309.30 262.90,309.30 263.15,309.30 263.40,309.30 263.65,309.30 263.90,309.30 264.15,309.30 264.40,309.30 264.65,309.30 264.90,309.30 265.15,309.30 265.40,309.30 265.65,309.30 265.90,309.30 266.15,309.30 266.40,309.30 266.65,309.30 266.90,309.30 267.15,309.30 267.40,309.30 267.65,309.30 267.90,309.30 268.15,309.30 268.40,309.30 268.65,309.30 268.90,309.30 269.15,309.30 269.40,309.30 269.65,309.30 269.90,309.30 270.15,309.30 270.40,309.30 270.65,309.30 270.90,309.30 271.15,309.30 271.40,309.30 271.65,309.30 271.90,309.30 272.15,309.30 272.40,309.30 272.65,309.30 272.90,309.30 273.15,309.30 273.40,309.30 273.65,309.30 273.90,309.30 274.15,309.30 274.40,309.30 274.65,309.30 274.90,309.30 275.15,309.30 275.40,309.30 275.65,309.30 275.90,309.30 276.15,309.30 276.40,309.30 276.65,309.30 276.90,309.30 277.15,309.30 277.40,309.30 277.65,309.30 277.90,309.30 278.15,309.30 278.40,309.30 278.65,309.30 278.90,309.30 279.15,309.30 279.40,309.30 279.65,309.30 279.90,309.30 280.15,309.30 280.40,309.30 280.65,309.30 280.90,309.30 281.15,309.30 281.40,309.30 281.65,309.30 281.90,309.30 282.15,309.30 282.40,309.30 282.65,309.30 282.90,309.30 283.15,309.30 283.40,309.30 283.65,309.30 283.90,309.30 284.15,309.30 284.40,309.30 284.65,309.30 284.90,309.30 285.15,309.30 285.40,309.30 285.65,309.30 285.90,309.30 286.15,309.30 286.40,309.30 286.65,309.30 286.90,309.30 287.15,309.30 287.40,309.30 287.65,309.30 287.90,309.30 288.15,309.30 288.40,309.30 288.65,309.30 288.90,309.30 289.15,309.30 289.40,309.30 289.65,309.30 289.90,309.30 290.15,309.30 290.40,309.30 290.65,309.30 290.90,309.30 291.15,309.30 291.40,309.30 291.65,309.30 291.90,309.30 292.15,309.30 292.40,309.30 292.65,309.30 292.90,309.30 293.15,309.30 293.40,309.30 293.65,309.30 293.90,309.30 294.15,309.30 294.40,309.30 294.65,309.30 294.90,309.30 295.15,309.30 295.40,309.30 295.65,309.30 295.90,309.30 296.15,309.30 296.40,309.30 296.65,309.30 296.90,309.30 297.15,309.30 297.40,309.30 297.65,309.30 297.90,309.30 298.15,309.30 298.40,309.30 298.65,309.30 298.90,309.30 299.15,309.30 299.40,309.30 299.65,309.30 299.90,309.30 300.15,309.30 300.40,309.30 300.65,309.30 300.90,309.30 301.15,309.30 301.40,309.30 301.65,309.30 301.90,309.30 302.15,309.30 302.40,309.30 302.65,309.30 302.90,309.30 303.15,309.30 303.40,309.30 303.65,309.30 303.90,309.30 304.15,309.30 304.40,309.30 304.65,309.30 304.90,309.30 305.15,309.30 305.40,309.30 305.65,309.30 305.90,309.30 306.15,309.30 306.40,309.30 306.65,309.30 306.90,309.30 307.15,309.30 307.40,309.30 307.65,309.30 307.90,309.30 308.15,309.30 308.40,309.30 308.65,309.30 308.90,309.30 309.15,309.30 309.40,309.30 309.65,309.30 309.90,309.30 310.15,309.30 310.40,309.30 310.65,309.30 310.90,309.30 311.15,309.30 311.40,309.30 311.65,309.30 311.90,309.30 312.15,309.30 312.40,309.30 312.65,309.30 312.90,309.30 313.15,309.30 313.40,309.30 313.65,309.30 313.90,309.30 314.15,309.30 314.40,309.30 314.65,309.30 314.90,309.30 315.15,309.30 315.40,309.30 315.65,309.30 315.90,309.30 316.15,309.30 316.40,309.30 316.65,309.30 316.90,309.30 317.15,309.30 317.40,309.30 317.65,309.30 317.90,309.30 318.15,309.30 318.40,309.30 318.65,309.30 318.90,309.30 319.15,309.30 319.40,309.30 319.65,309.30 319.90,309.30 320.15,309.30 320.40,309.30 320.65,309.30 320.90,309.30 321.15,309.30 321.40,309.30 321.65,309.30 321.90,309.30 322.15,309.30 322.40,309.30 322.65,309.30 322.90,309.30 323.15,309.30 323.40,309.30 323.65,309.30 323.90,309.30 324.15,309.30 324.40,309.30 324.65,309.30 324.90,309.30 325.15,309.30 325.40,309.30 325.65,309.30 325.90,309.30 326.15,309.30 326.40,309.30 326.65,309.30 326.90,309.30 327.15,309.30 327.40,309.30 327.65,309.30 327.90,309.30 328.15,309.30 328.40,309.30 328.65,309.30 328.90,309.30 329.15,309.30 329.40,309.30 329.65,309.30 329.90,309.30 330.15,309.30 330.40,309.30 330.65,309.30 330.90,309.30 331.15,309.30 331.40,309.30 331.65,309.30 331.90,309.30 332.15,309.30 332.40,309.30 332.65,309.30 332.90,309.30 333.15,309.30 333.40,309.30 333.65,309.30 333.90,309.30 334.15,309.30 334.40,309.30 334.65,309.30 334.90,309.30 335.15,309.30 335.40,309.30 335.65,309.30 335.90,309.30 336.15,309.30 336.40,309.30 336.65,309.30 336.90,309.30 337.15,309.30 337.40,309.30 337.65,309.30 337.90,309.30 338.15,309.30 338.40,309.30 338.65,309.30 338.90,309.30 339.15,309.30 339.40,309.30 339.65,309.30 339.90,309.30 340.15,309.30 340.40,309.30 340.65,309.30 340.90,309.30 341.15,309.30 341.40,309.30 341.65,309.30 341.90,309.30 342.15,309.30 342.40,309.30 342.65,309.30 342.90,309.30 343.15,309.30 343.40,309.30 343.65,309.30 343.90,309.30 344.15,309.30 344.40,309.30 344.65,309.30 344.90,309.30 345.15,309.30 345.40,309.30 345.65,309.30 345.90,309.30 346.15,309.30 346.40,309.30 346.65,309.30 346.90,309.30 347.15,309.30 347.40,309.30 347.65,309.30 347.90,309.30 348.15,309.30 348.40,309.30 348.65,309.30 348.90,309.30 349.15,309.30 349.40,309.30 349.65,309.30 349.90,309.30 350.15,309.30 350.40,309.30 350.65,309.30 350.90,309.30 351.15,309.30 351.40,309.30 351.65,309.30 351.90,309.30 352.15,309.30 352.40,309.30 352.65,309.30 352.90,309.30 353.15,309.30 353.40,309.30 353.65,309.30 353.90,309.30 354.15,309.30 354.40,309.30 354.65,309.30 354.90,309.30 355.15,309.30 355.40,309.30 355.65,309.30 355.90,309.30 356.15,309.30 356.40,309.30 356.65,309.30 356.90,309.30 357.15,309.30 357.40,309.30 357.65,309.30 357.90,309.30 358.15,309.30 358.40,309.30 358.65,309.30 358.90,309.30 359.15,309.30 359.40,309.30 359.65,309.30 359.90,309.30 360.15,309.30 360.40,309.30 360.65,309.30 360.90,309.30 361.15,309.30 361.40,309.30 361.65,309.30 361.90,309.30 362.15,309.30 362.40,309.30 362.65,309.30 362.90,309.30 363.15,309.30 363.40,309.30 363.65,309.30 363.90,309.30 364.15,309.30 364.40,309.30 364.65,309.30 364.90,309.30 365.15,309.30 365.40,309.30 365.65,309.30 365.90,309.30 366.15,309.30 366.40,309.30 366.65,309.30 366.90,309.30 367.15,309.30 367.40,309.30 367.65,309.30 367.90,309.30 368.15,309.30 368.40,309.30 368.65,309.30 368.90,309.30 369.15,309.30 369.40,309.30 369.65,309.30 369.90,309.30 370.15,309.30 370.40,309.30 370.65,309.30 370.90,309.30 371.15,309.30 371.40,309.30 371.65,309.30 371.90,309.30 372.15,309.30 372.40,309.30 372.65,309.30 372.90,309.30 373.15,309.30 373.40,309.30 373.65,309.30 373.90,309.30 374.15,309.30 374.40,309.30 374.65,309.30 374.90,309.30 375.15,309.30 375.40,309.30 375.65,309.30 375.90,309.30 376.15,309.30 376.40,309.30 376.65,309.30 376.90,309.30 377.15,309.30 377.40,309.30 377.65,309.30 377.90,309.30 378.15,309.30 378.40,309.30 378.65,309.30 378.90,309.30 379.15,309.30 379.40,309.30 379.65,309.30 379.90,309.30 380.15,309.30 380.40,309.30 380.65,309.30 380.90,309.30 381.15,309.30 381.40,309.30 381.65,309.30 381.90,309.30 382.15,309.30 382.40,309.30 382.65,309.30 382.90,309.30 383.15,309.30 383.40,309.30 383.65,309.30 383.90,309.30 384.15,309.30 384.40,309.30 384.65,309.30 384.90,309.30 385.15,309.30 385.40,309.30 385.65,309.30 385.90,309.30 386.15,309.30 386.40,309.30 386.65,309.30 386.90,309.30 387.15,309.30 387.40,309.30 387.65,309.30 387.90,309.30 388.15,309.30 388.40,309.30 388.65,309.30 388.90,309.30 389.15,309.30 389.40,309.30 389.65,309.30 389.90,309.30 390.15,309.30 390.40,309.30 390.65,309.30 390.90,309.30 391.15,309.30 391.40,309.30 391.65,309.30 391.90,309.30 392.15,309.30 392.40,309.30 392.65,309.30 392.90,309.30 393.15,309.30 393.40,309.30 393.65,309.30 393.90,309.30 394.15,309.30 394.40,309.30 394.65,309.30 394.90,309.30 395.15,309.30 395.40,309.30 395.65,309.30 395.90,309.30 396.15,309.30 396.40,309.30 396.65,309.30 396.90,309.30 397.15,309.30 397.40,309.30 397.65,309.30 397.90,309.30 398.15,309.30 398.40,309.30 398.65,309.30 398.90,309.30 399.15,309.30 399.40,309.30 399.65,309.30 399.90,309.30 400.15,309.30 400.40,309.30 400.65,309.30 400.90,309.30 401.15,309.30 401.40,309.30 401.65,309.30 401.90,309.30 402.15,309.30 402.40,309.30 402.65,309.30 402.90,309.30 403.15,309.30 403.40,309.30 403.65,309.30 403.90,309.30 404.15,309.30 404.40,309.30 404.65,309.30 404.90,309.30 405.15,309.30 405.40,309.30 405.65,309.30 405.90,309.30 406.15,309.30 406.40,309.30 406.65,309.30 406.90,309.30 407.15,309.30 407.40,309.30 407.65,309.30 407.90,309.30 408.15,309.30 408.40,309.30 408.65,309.30 408.90,309.30 409.15,309.30 409.40,309.30 409.65,309.30 409.90,309.30 410.15,309.30 410.40,309.30 410.65,309.30 410.90,309.30 411.15,309.30 411.40,309.30 411.65,309.30 411.90,309.30 412.15,309.30 412.40,309.30 412.65,309.30 412.90,309.30 413.15,309.30 413.40,309.30 413.65,309.30 413.90,309.30 414.15,309.30 414.40,309.30 414.65,309.30 414.90,309.30 415.15,309.30 415.40,309.30 415.65,309.30 415.90,309.30 416.15,309.30 416.40,309.30 416.65,309.30 416.90,309.30 417.15,309.30 417.40,309.30 417.65,309.30 417.90,309.30 418.15,309.30 418.40,309.30 418.65,309.30 418.90,309.30 419.15,309.30 419.40,309.30 419.65,309.30 419.90,309.30 420.15,309.30 420.40,309.30 420.65,309.30 420.90,309.30 421.15,309.30 421.40,309.30 421.65,309.30 421.90,309.30 422.15,309.30 422.40,309.30 422.65,309.30 422.90,309.30 423.15,309.30 423.40,309.30 423.65,309.30 423.90,309.30 424.15,309.30 424.40,309.30 424.65,309.30 424.90,309.30 425.15,309.30 425.40,309.30 425.65,309.30 425.90,309.30 426.15,309.30 426.40,309.30 426.65,309.30 426.90,309.30 427.15,309.30 427.40,309.30 427.65,309.30 427.90,309.30 428.15,309.30 428.40,309.30 428.65,309.30 428.90,309.30 429.15,309.30 429.40,309.30 429.65,309.30 429.90,309.30 430.15,309.30 430.40,309.30 430.65,309.30 430.90,309.30 431.15,309.30 431.40,309.30 431.65,309.30 431.90,309.30 432.15,309.30 432.40,309.30 432.65,309.30 432.90,309.30 433.15,309.30 433.40,309.30 433.65,309.30 433.90,309.30 434.15,309.30 434.40,309.30 434.65,309.30 434.90,309.30 435.15,309.30 435.40,309.30 435.65,309.30 435.90,309.30 436.15,309.30 436.40,309.30 436.65,309.30 436.90,309.30 437.15,309.30 437.40,309.30 437.65,309.30 437.90,309.30 438.15,309.30 438.40,309.30 438.65,309.30 438.90,309.30 439.15,309.30 439.40,309.30 439.65,309.30 439.90,309.30 440.15,309.30 440.40,309.30 440.65,309.30 440.90,309.30 441.15,309.30 441.40,309.30 441.65,309.30 441.90,309.30 442.15,309.30 442.40,309.30 442.65,309.30 442.90,309.30 443.15,309.30 443.40,309.30 443.65,309.30 443.90,309.30 444.15,309.30 444.40,309.30 444.65,309.30 444.90,309.30 445.15,309.30 445.40,309.30 445.65,309.30 445.90,309.30 446.15,309.30 446.40,309.30 446.65,309.30 446.90,309.30 447.15,309.30 447.40,309.30 447.65,309.30 447.90,309.30 448.15,309.30 448.40,309.30 448.65,309.30 448.90,309.30 449.15,309.30 449.40,309.30 449.65,309.30 449.90,309.30 450.15,309.30 450.40,309.30 450.65,309.30 450.90,309.30 451.15,309.30 451.40,309.30 451.65,309.30 451.90,309.30 452.15,309.30 452.40,309.30 452.65,309.30 452.90,309.30 453.15,309.30 453.40,309.30 453.65,309.30 453.90,309.30 454.15,309.30 454.40,309.30 454.65,309.30 454.90,309.30 455.15,309.30 455.40,309.30 455.65,309.30 455.90,309.30 456.15,309.30 456.40,309.30 456.65,309.30 456.90,309.30 457.15,309.30 457.40,309.30 457.65,309.30 457.90,309.30 458.15,309.30 458.40,309.30 458.65,309.30 458.90,309.30 459.15,309.30 459.40,309.30 459.65,309.30 459.90,309.30 460.15,309.30 460.40,309.30 460.65,309.30 460.90,309.30 461.15,309.30 461.40,309.30 461.65,309.30 461.90,309.30 462.15,309.30 462.40,309.30 462.65,309.30 462.90,309.30 463.15,309.30 463.40,309.30 463.65,309.30 463.90,309.30 464.15,309.30 464.40,309.30 464.65,309.30 464.90,309.30 465.15,309.30 465.40,309.30 465.65,309.30 465.90,309.30 466.15,309.30 466.40,309.30 466.65,309.30 466.90,309.30 467.15,309.30 467.40,309.30 467.65,309.30 467.90,309.30 468.15,309.30 468.40,309.30 468.65,309.30 468.90,309.30 469.15,309.30 469.40,309.30 469.65,309.30 469.90,309.30 470.15,309.30 470.40,309.30 470.65,309.30 470.90,309.30 471.15,309.30 471.40,309.30 471.65,309.30 471.90,309.30 472.15,309.30 472.40,309.30 472.65,309.30 472.90,309.30 473.15,309.30 473.40,309.30 473.65,309.30 473.90,309.30 474.15,309.30 474.40,309.30 474.65,309.30 474.90,309.30 475.15,309.30 475.40,309.30 475.65,309.30 475.90,309.30 476.15,309.30 476.40,309.30 476.65,309.30 476.90,309.30 477.15,309.30 477.40,309.30 477.65,309.30 477.90,309.30 478.15,309.30 478.40,309.30 478.65,309.30 478.90,309.30 479.15,309.30 479.40,309.30 479.65,309.30 479.90,309.30 480.15,309.30 480.40,309.30 480.65,309.30 480.90,309.30 481.15,309.30 481.40,309.30 481.65,309.30 481.90,309.30 482.15,309.30 482.40,309.30 482.65,309.30 482.90,309.30 483.15,309.30 483.40,309.30 483.65,309.30 483.90,309.30 484.15,309.30 484.40,309.30 484.65,309.30 484.90,309.30 485.15,309.30 485.40,309.30 485.65,309.30 485.90,309.30 486.15,309.30 486.40,309.30 486.65,309.30 486.90,309.30 487.15,309.30 487.40,309.30 487.65,309.30 487.90,309.30 488.15,309.30 488.40,309.30 488.65,309.30 488.90,309.30 489.15,309.30 489.40,309.30 489.65,309.30 489.90,309.30 490.15,309.30 490.40,309.30 490.65,309.30 490.90,309.30 491.15,309.30 491.40,309.30 491.65,309.30 491.90,309.30 492.15,309.30 492.40,309.30 492.65,309.30 492.90,309.30 493.15,309.30 493.40,309.30 493.65,309.30 493.90,309.30 494.15,309.30 494.40,309.30 494.65,309.30 494.90,309.30 495.15,309.30 495.40,309.30 495.65,309.30 495.90,309.30 496.15,309.30 496.40,309.30 496.65,309.30 496.90,309.30 497.15,309.30 497.40,309.30 497.65,309.30 497.90,309.30 498.15,309.30 498.40,309.30 498.65,309.30 498.90,309.30 499.15,309.30 499.40,309.30 499.65,309.30 499.90,309.30 500.15,309.30 500.40,309.30 500.65,309.30 500.90,309.30 501.00,309.30" fill="none" stroke="#087464" stroke-width="2.3" stroke-linejoin="round" stroke-linecap="round"/>
<polyline points="90.40,90.00 90.65,97.12 90.90,101.23 91.15,103.69 91.40,105.54 91.65,107.09 91.90,108.58 92.15,109.72 92.40,110.63 92.65,111.57 92.90,112.79 93.15,114.56 93.40,118.40 93.65,125.44 93.90,133.17 94.15,142.48 94.40,151.80 94.65,159.11 94.90,165.09 95.15,170.99 95.40,178.42 95.65,187.14 95.90,190.11 96.15,192.10 96.40,193.51 96.65,194.52 96.90,195.29 97.15,195.95 97.40,196.51 97.65,197.00 97.90,197.43 98.15,197.81 98.40,198.17 98.65,198.51 98.90,198.86 99.15,199.21 99.40,199.51 99.65,199.78 99.90,200.02 100.15,200.26 100.40,200.50 100.65,200.76 100.90,201.05 101.15,201.40 101.40,201.81 101.65,202.30 101.90,202.90 102.15,203.71 102.40,204.82 102.65,206.48 102.90,212.00 103.15,219.08 103.40,223.25 103.65,226.04 103.90,228.41 104.15,230.44 104.40,232.22 104.65,233.84 104.90,235.39 105.15,236.90 105.40,238.28 105.65,239.54 105.90,240.71 106.15,241.82 106.40,242.90 106.65,243.98 106.90,245.08 107.15,246.23 107.40,247.47 107.65,248.84 107.90,250.38 108.15,252.04 108.40,253.74 108.65,255.41 108.90,256.99 109.15,258.41 109.40,259.60 109.65,260.56 109.90,261.49 110.15,262.41 110.40,263.30 110.65,264.15 110.90,264.94 111.15,265.66 111.40,266.28 111.65,266.79 111.90,267.17 112.15,267.42 112.40,267.50 112.65,267.40 112.90,267.11 113.15,266.67 113.40,266.09 113.65,265.41 113.90,264.64 114.15,263.82 114.40,262.98 114.65,262.14 114.90,261.32 115.15,260.54 115.40,259.77 115.65,258.94 115.90,257.98 116.15,256.82 116.40,255.31 116.65,252.83 116.90,249.74 117.15,246.63 117.40,244.03 117.65,241.75 117.90,239.58 118.15,237.38 118.40,235.07 118.65,232.86 118.90,230.55 119.15,227.89 119.40,224.58 119.65,220.35 119.90,215.07 120.15,208.56 120.40,199.40 120.65,187.21 120.90,170.00 121.15,153.03 121.40,139.22 121.65,127.29 121.90,115.78 122.15,105.12 122.40,97.14 122.65,90.83 122.90,85.48 123.15,80.86 123.40,76.63 123.65,72.63 123.90,69.10 124.15,66.27 124.40,64.28 124.65,62.53 124.90,61.04 125.15,59.99 125.40,59.60 125.65,59.92 125.90,60.80 126.15,62.09 126.40,63.65 126.65,65.37 126.90,67.92 127.15,71.37 127.40,75.28 127.65,79.24 127.90,83.06 128.15,87.07 128.40,91.35 128.65,95.95 128.90,101.06 129.15,106.57 129.40,112.35 129.65,118.53 129.90,124.93 130.15,131.26 130.40,137.69 130.65,144.07 130.90,150.00 131.15,155.50 131.40,160.72 131.65,165.46 131.90,169.58 132.15,173.30 132.40,176.63 132.65,179.49 132.90,181.85 133.15,183.86 133.40,185.66 133.65,187.40 133.90,189.22 134.15,191.23 134.40,193.35 134.65,195.51 134.90,197.63 135.15,199.62 135.40,201.48 135.65,203.30 135.90,205.07 136.15,206.77 136.40,208.41 136.65,209.97 136.90,211.44 137.15,212.85 137.40,214.34 137.65,215.89 137.90,217.44 138.15,218.94 138.40,220.34 138.65,221.58 138.90,222.62 139.15,223.40 139.40,223.88 139.65,223.99 139.90,223.51 140.15,222.46 140.40,220.95 140.65,219.10 140.90,217.05 141.15,214.91 141.40,212.80 141.65,210.83 141.90,208.86 142.15,206.67 142.40,204.04 142.65,200.76 142.90,195.38 143.15,187.28 143.40,180.00 143.65,174.47 143.90,169.32 144.15,164.81 144.40,161.16 144.65,158.46 144.90,156.14 145.15,154.11 145.40,152.35 145.65,150.81 145.90,149.48 146.15,148.29 146.40,147.08 146.65,145.94 146.90,144.93 147.15,144.13 147.40,143.63 147.65,143.51 147.90,143.82 148.15,144.50 148.40,145.44 148.65,146.54 148.90,147.69 149.15,148.79 149.40,149.86 149.65,151.03 149.90,152.30 150.15,153.61 150.40,154.94 150.65,156.26 150.90,157.52 151.15,158.72 151.40,159.94 151.65,161.16 151.90,162.38 152.15,163.56 152.40,164.68 152.65,165.72 152.90,166.66 153.15,167.51 153.40,168.39 153.65,169.28 153.90,170.14 154.15,170.92 154.40,171.59 154.65,172.10 154.90,172.42 155.15,172.50 155.40,172.36 155.65,172.05 155.90,171.61 156.15,171.08 156.40,170.48 156.65,169.85 156.90,169.23 157.15,168.66 157.40,168.17 157.65,167.76 157.90,167.33 158.15,166.88 158.40,166.43 158.65,165.99 158.90,165.58 159.15,165.21 159.40,164.91 159.65,164.68 159.90,164.54 160.15,164.51 160.40,164.72 160.65,165.19 160.90,165.88 161.15,166.71 161.40,167.65 161.65,168.64 161.90,169.62 162.15,170.60 162.40,171.72 162.65,172.99 162.90,174.36 163.15,175.78 163.40,177.22 163.65,178.64 163.90,180.00 164.15,181.32 164.40,182.65 164.65,183.97 164.90,185.30 165.15,186.62 165.40,187.93 165.65,189.23 165.90,190.50 166.15,191.67 166.40,192.80 166.65,194.01 166.90,195.38 167.15,197.04 167.40,199.09 167.65,201.41 167.90,203.91 168.15,206.49 168.40,209.02 168.65,211.48 168.90,214.03 169.15,216.62 169.40,219.20 169.65,221.68 169.90,224.00 170.15,226.16 170.40,228.23 170.65,230.18 170.90,232.00 171.15,233.64 171.40,235.12 171.65,236.55 171.90,238.02 172.15,239.65 172.40,241.51 172.65,243.57 172.90,245.76 173.15,248.01 173.40,250.26 173.65,252.43 173.90,254.59 174.15,256.78 174.40,258.94 174.65,261.02 174.90,263.00 175.15,264.90 175.40,266.75 175.65,268.53 175.90,270.20 176.15,271.72 176.40,273.12 176.65,274.52 176.90,275.83 177.15,276.99 177.40,277.94 177.65,278.61 177.90,279.17 178.15,279.69 178.40,280.17 178.65,280.59 178.90,280.95 179.15,281.23 179.40,281.42 179.65,281.50 179.90,281.47 180.15,281.38 180.40,281.22 180.65,281.02 180.90,280.79 181.15,280.55 181.40,280.25 181.65,279.83 181.90,279.31 182.15,278.74 182.40,278.16 182.65,277.60 182.90,277.11 183.15,276.61 183.40,276.11 183.65,275.61 183.90,275.12 184.15,274.65 184.40,274.20 184.65,273.79 184.90,273.43 185.15,273.11 185.40,272.81 185.65,272.52 185.90,272.24 186.15,271.99 186.40,271.75 186.65,271.55 186.90,271.37 187.15,271.22 187.40,271.10 187.65,270.99 187.90,270.88 188.15,270.77 188.40,270.68 188.65,270.61 188.90,270.55 189.15,270.51 189.40,270.50 189.65,270.52 189.90,270.58 190.15,270.67 190.40,270.78 190.65,270.91 190.90,271.05 191.15,271.21 191.40,271.37 191.65,271.56 191.90,271.80 192.15,272.08 192.40,272.39 192.65,272.71 192.90,273.06 193.15,273.42 193.40,273.84 193.65,274.30 193.90,274.80 194.15,275.33 194.40,275.89 194.65,276.46 194.90,277.04 195.15,277.62 195.40,278.20 195.65,278.76 195.90,279.29 196.15,279.81 196.40,280.32 196.65,280.84 196.90,281.36 197.15,281.86 197.40,282.36 197.65,282.85 197.90,283.32 198.15,283.77 198.40,284.21 198.65,284.65 198.90,285.08 199.15,285.49 199.40,285.89 199.65,286.28 199.90,286.66 200.15,287.01 200.40,287.36 200.65,287.70 200.90,288.04 201.15,288.36 201.40,288.68 201.65,288.99 201.90,289.29 202.15,289.58 202.40,289.86 202.65,290.14 202.90,290.41 203.15,290.68 203.40,290.95 203.65,291.21 203.90,291.48 204.15,291.73 204.40,291.98 204.65,292.22 204.90,292.44 205.15,292.65 205.40,292.84 205.65,293.01 205.90,293.16 206.15,293.30 206.40,293.44 206.65,293.57 206.90,293.70 207.15,293.82 207.40,293.94 207.65,294.05 207.90,294.16 208.15,294.27 208.40,294.37 208.65,294.47 208.90,294.57 209.15,294.66 209.40,294.75 209.65,294.84 209.90,294.92 210.15,295.00 210.40,295.08 210.65,295.16 210.90,295.23 211.15,295.30 211.40,295.37 211.65,295.44 211.90,295.51 212.15,295.57 212.40,295.63 212.65,295.69 212.90,295.75 213.15,295.81 213.40,295.86 213.65,295.92 213.90,295.97 214.15,296.02 214.40,296.07 214.65,296.12 214.90,296.17 215.15,296.21 215.40,296.26 215.65,296.31 215.90,296.35 216.15,296.40 216.40,296.44 216.65,296.48 216.90,296.53 217.15,296.57 217.40,296.62 217.65,296.66 217.90,296.71 218.15,296.75 218.40,296.80 218.65,296.84 218.90,296.89 219.15,296.93 219.40,296.98 219.65,297.02 219.90,297.07 220.15,297.11 220.40,297.15 220.65,297.19 220.90,297.23 221.15,297.27 221.40,297.30 221.65,297.34 221.90,297.37 222.15,297.40 222.40,297.43 222.65,297.46 222.90,297.48 223.15,297.50 223.40,297.53 223.65,297.55 223.90,297.57 224.15,297.59 224.40,297.61 224.65,297.63 224.90,297.65 225.15,297.67 225.40,297.69 225.65,297.71 225.90,297.73 226.15,297.75 226.40,297.76 226.65,297.78 226.90,297.80 227.15,297.81 227.40,297.82 227.65,297.84 227.90,297.85 228.15,297.86 228.40,297.87 228.65,297.88 228.90,297.89 229.15,297.89 229.40,297.90 229.65,297.90 229.90,297.90 230.15,297.90 230.40,297.89 230.65,297.88 230.90,297.85 231.15,297.83 231.40,297.80 231.65,297.76 231.90,297.72 232.15,297.68 232.40,297.63 232.65,297.58 232.90,297.53 233.15,297.48 233.40,297.42 233.65,297.37 233.90,297.32 234.15,297.27 234.40,297.21 234.65,297.15 234.90,297.09 235.15,297.02 235.40,296.95 235.65,296.88 235.90,296.80 236.15,296.72 236.40,296.64 236.65,296.55 236.90,296.46 237.15,296.37 237.40,296.28 237.65,296.18 237.90,296.08 238.15,295.98 238.40,295.87 238.65,295.76 238.90,295.64 239.15,295.51 239.40,295.38 239.65,295.24 239.90,295.10 240.15,294.95 240.40,294.80 240.65,294.65 240.90,294.50 241.15,294.34 241.40,294.18 241.65,294.02 241.90,293.86 242.15,293.70 242.40,293.54 242.65,293.37 242.90,293.20 243.15,293.03 243.40,292.85 243.65,292.67 243.90,292.48 244.15,292.30 244.40,292.11 244.65,291.92 244.90,291.73 245.15,291.54 245.40,291.34 245.65,291.15 245.90,290.96 246.15,290.76 246.40,290.56 246.65,290.36 246.90,290.16 247.15,289.96 247.40,289.75 247.65,289.54 247.90,289.33 248.15,289.12 248.40,288.91 248.65,288.70 248.90,288.49 249.15,288.29 249.40,288.08 249.65,287.88 249.90,287.67 250.15,287.46 250.40,287.25 250.65,287.03 250.90,286.82 251.15,286.61 251.40,286.40 251.65,286.19 251.90,285.99 252.15,285.80 252.40,285.61 252.65,285.43 252.90,285.26 253.15,285.10 253.40,284.94 253.65,284.79 253.90,284.63 254.15,284.48 254.40,284.33 254.65,284.19 254.90,284.05 255.15,283.93 255.40,283.82 255.65,283.72 255.90,283.63 256.15,283.56 256.40,283.48 256.65,283.41 256.90,283.34 257.15,283.28 257.40,283.21 257.65,283.16 257.90,283.11 258.15,283.07 258.40,283.03 258.65,283.01 258.90,283.00 259.15,283.00 259.40,283.01 259.65,283.04 259.90,283.07 260.15,283.11 260.40,283.16 260.65,283.21 260.90,283.27 261.15,283.34 261.40,283.41 261.65,283.49 261.90,283.57 262.15,283.65 262.40,283.77 262.65,283.92 262.90,284.09 263.15,284.28 263.40,284.48 263.65,284.70 263.90,284.93 264.15,285.17 264.40,285.41 264.65,285.65 264.90,285.91 265.15,286.18 265.40,286.48 265.65,286.79 265.90,287.11 266.15,287.44 266.40,287.77 266.65,288.10 266.90,288.43 267.15,288.77 267.40,289.12 267.65,289.47 267.90,289.84 268.15,290.20 268.40,290.57 268.65,290.94 268.90,291.31 269.15,291.68 269.40,292.05 269.65,292.42 269.90,292.79 270.15,293.17 270.40,293.54 270.65,293.92 270.90,294.30 271.15,294.67 271.40,295.04 271.65,295.40 271.90,295.76 272.15,296.11 272.40,296.45 272.65,296.80 272.90,297.13 273.15,297.47 273.40,297.80 273.65,298.12 273.90,298.44 274.15,298.76 274.40,299.06 274.65,299.36 274.90,299.65 275.15,299.95 275.40,300.23 275.65,300.52 275.90,300.79 276.15,301.07 276.40,301.33 276.65,301.58 276.90,301.82 277.15,302.06 277.40,302.28 277.65,302.49 277.90,302.69 278.15,302.89 278.40,303.09 278.65,303.27 278.90,303.45 279.15,303.63 279.40,303.80 279.65,303.97 279.90,304.13 280.15,304.29 280.40,304.44 280.65,304.59 280.90,304.74 281.15,304.89 281.40,305.03 281.65,305.16 281.90,305.29 282.15,305.42 282.40,305.55 282.65,305.67 282.90,305.79 283.15,305.91 283.40,306.02 283.65,306.14 283.90,306.24 284.15,306.35 284.40,306.46 284.65,306.56 284.90,306.66 285.15,306.76 285.40,306.86 285.65,306.95 285.90,307.04 286.15,307.13 286.40,307.22 286.65,307.31 286.90,307.40 287.15,307.48 287.40,307.57 287.65,307.65 287.90,307.74 288.15,307.83 288.40,307.92 288.65,308.00 288.90,308.09 289.15,308.17 289.40,308.24 289.65,308.31 289.90,308.38 290.15,308.43 290.40,308.49 290.65,308.54 290.90,308.59 291.15,308.63 291.40,308.68 291.65,308.72 291.90,308.76 292.15,308.79 292.40,308.83 292.65,308.86 292.90,308.89 293.15,308.92 293.40,308.94 293.65,308.97 293.90,308.99 294.15,309.01 294.40,309.04 294.65,309.06 294.90,309.08 295.15,309.10 295.40,309.12 295.65,309.13 295.90,309.15 296.15,309.16 296.40,309.18 296.65,309.19 296.90,309.20 297.15,309.20 297.40,309.21 297.65,309.22 297.90,309.23 298.15,309.24 298.40,309.24 298.65,309.25 298.90,309.26 299.15,309.26 299.40,309.27 299.65,309.27 299.90,309.28 300.15,309.28 300.40,309.29 300.65,309.29 300.90,309.29 301.15,309.30 301.40,309.30 301.65,309.30 301.90,309.30 302.15,309.30 302.40,309.30 302.65,309.30 302.90,309.30 303.15,309.30 303.40,309.30 303.65,309.30 303.90,309.30 304.15,309.30 304.40,309.30 304.65,309.30 304.90,309.30 305.15,309.30 305.40,309.30 305.65,309.30 305.90,309.30 306.15,309.30 306.40,309.30 306.65,309.30 306.90,309.30 307.15,309.30 307.40,309.30 307.65,309.30 307.90,309.30 308.15,309.30 308.40,309.30 308.65,309.30 308.90,309.30 309.15,309.30 309.40,309.30 309.65,309.30 309.90,309.30 310.15,309.30 310.40,309.30 310.65,309.30 310.90,309.30 311.15,309.30 311.40,309.30 311.65,309.30 311.90,309.30 312.15,309.30 312.40,309.30 312.65,309.30 312.90,309.30 313.15,309.30 313.40,309.30 313.65,309.30 313.90,309.30 314.15,309.30 314.40,309.30 314.65,309.30 314.90,309.30 315.15,309.30 315.40,309.30 315.65,309.30 315.90,309.30 316.15,309.30 316.40,309.30 316.65,309.30 316.90,309.30 317.15,309.30 317.40,309.30 317.65,309.30 317.90,309.30 318.15,309.30 318.40,309.30 318.65,309.30 318.90,309.30 319.15,309.30 319.40,309.30 319.65,309.30 319.90,309.30 320.15,309.30 320.40,309.30 320.65,309.30 320.90,309.30 321.15,309.30 321.40,309.30 321.65,309.30 321.90,309.30 322.15,309.30 322.40,309.30 322.65,309.30 322.90,309.30 323.15,309.30 323.40,309.30 323.65,309.30 323.90,309.30 324.15,309.30 324.40,309.30 324.65,309.30 324.90,309.30 325.15,309.30 325.40,309.30 325.65,309.30 325.90,309.30 326.15,309.30 326.40,309.30 326.65,309.30 326.90,309.30 327.15,309.30 327.40,309.30 327.65,309.30 327.90,309.30 328.15,309.30 328.40,309.30 328.65,309.30 328.90,309.30 329.15,309.30 329.40,309.30 329.65,309.30 329.90,309.30 330.15,309.30 330.40,309.30 330.65,309.30 330.90,309.30 331.15,309.30 331.40,309.30 331.65,309.30 331.90,309.30 332.15,309.30 332.40,309.30 332.65,309.30 332.90,309.30 333.15,309.30 333.40,309.30 333.65,309.30 333.90,309.30 334.15,309.30 334.40,309.30 334.65,309.30 334.90,309.30 335.15,309.30 335.40,309.30 335.65,309.30 335.90,309.30 336.15,309.30 336.40,309.30 336.65,309.30 336.90,309.30 337.15,309.30 337.40,309.30 337.65,309.30 337.90,309.30 338.15,309.30 338.40,309.30 338.65,309.30 338.90,309.30 339.15,309.30 339.40,309.30 339.65,309.30 339.90,309.30 340.15,309.30 340.40,309.30 340.65,309.30 340.90,309.30 341.15,309.30 341.40,309.30 341.65,309.30 341.90,309.30 342.15,309.30 342.40,309.30 342.65,309.30 342.90,309.30 343.15,309.30 343.40,309.30 343.65,309.30 343.90,309.30 344.15,309.30 344.40,309.30 344.65,309.30 344.90,309.30 345.15,309.30 345.40,309.30 345.65,309.30 345.90,309.30 346.15,309.30 346.40,309.30 346.65,309.30 346.90,309.30 347.15,309.30 347.40,309.30 347.65,309.30 347.90,309.30 348.15,309.30 348.40,309.30 348.65,309.30 348.90,309.30 349.15,309.30 349.40,309.30 349.65,309.30 349.90,309.30 350.15,309.30 350.40,309.30 350.65,309.30 350.90,309.30 351.15,309.30 351.40,309.30 351.65,309.30 351.90,309.30 352.15,309.30 352.40,309.30 352.65,309.30 352.90,309.30 353.15,309.30 353.40,309.30 353.65,309.30 353.90,309.30 354.15,309.30 354.40,309.30 354.65,309.30 354.90,309.30 355.15,309.30 355.40,309.30 355.65,309.30 355.90,309.30 356.15,309.30 356.40,309.30 356.65,309.30 356.90,309.30 357.15,309.30 357.40,309.30 357.65,309.30 357.90,309.30 358.15,309.30 358.40,309.30 358.65,309.30 358.90,309.30 359.15,309.30 359.40,309.30 359.65,309.30 359.90,309.30 360.15,309.30 360.40,309.30 360.65,309.30 360.90,309.30 361.15,309.30 361.40,309.30 361.65,309.30 361.90,309.30 362.15,309.30 362.40,309.30 362.65,309.30 362.90,309.30 363.15,309.30 363.40,309.30 363.65,309.30 363.90,309.30 364.15,309.30 364.40,309.30 364.65,309.30 364.90,309.30 365.15,309.30 365.40,309.30 365.65,309.30 365.90,309.30 366.15,309.30 366.40,309.30 366.65,309.30 366.90,309.30 367.15,309.30 367.40,309.30 367.65,309.30 367.90,309.30 368.15,309.30 368.40,309.30 368.65,309.30 368.90,309.30 369.15,309.30 369.40,309.30 369.65,309.30 369.90,309.30 370.15,309.30 370.40,309.30 370.65,309.30 370.90,309.30 371.15,309.30 371.40,309.30 371.65,309.30 371.90,309.30 372.15,309.30 372.40,309.30 372.65,309.30 372.90,309.30 373.15,309.30 373.40,309.30 373.65,309.30 373.90,309.30 374.15,309.30 374.40,309.30 374.65,309.30 374.90,309.30 375.15,309.30 375.40,309.30 375.65,309.30 375.90,309.30 376.15,309.30 376.40,309.30 376.65,309.30 376.90,309.30 377.15,309.30 377.40,309.30 377.65,309.30 377.90,309.30 378.15,309.30 378.40,309.30 378.65,309.30 378.90,309.30 379.15,309.30 379.40,309.30 379.65,309.30 379.90,309.30 380.15,309.30 380.40,309.30 380.65,309.30 380.90,309.30 381.15,309.30 381.40,309.30 381.65,309.30 381.90,309.30 382.15,309.30 382.40,309.30 382.65,309.30 382.90,309.30 383.15,309.30 383.40,309.30 383.65,309.30 383.90,309.30 384.15,309.30 384.40,309.30 384.65,309.30 384.90,309.30 385.15,309.30 385.40,309.30 385.65,309.30 385.90,309.30 386.15,309.30 386.40,309.30 386.65,309.30 386.90,309.30 387.15,309.30 387.40,309.30 387.65,309.30 387.90,309.30 388.15,309.30 388.40,309.30 388.65,309.30 388.90,309.30 389.15,309.30 389.40,309.30 389.65,309.30 389.90,309.30 390.15,309.30 390.40,309.30 390.65,309.30 390.90,309.30 391.15,309.30 391.40,309.30 391.65,309.30 391.90,309.30 392.15,309.30 392.40,309.30 392.65,309.30 392.90,309.30 393.15,309.30 393.40,309.30 393.65,309.30 393.90,309.30 394.15,309.30 394.40,309.30 394.65,309.30 394.90,309.30 395.15,309.30 395.40,309.30 395.65,309.30 395.90,309.30 396.15,309.30 396.40,309.30 396.65,309.30 396.90,309.30 397.15,309.30 397.40,309.30 397.65,309.30 397.90,309.30 398.15,309.30 398.40,309.30 398.65,309.30 398.90,309.30 399.15,309.30 399.40,309.30 399.65,309.30 399.90,309.30 400.15,309.30 400.40,309.30 400.65,309.30 400.90,309.30 401.15,309.30 401.40,309.30 401.65,309.30 401.90,309.30 402.15,309.30 402.40,309.30 402.65,309.30 402.90,309.30 403.15,309.30 403.40,309.30 403.65,309.30 403.90,309.30 404.15,309.30 404.40,309.30 404.65,309.30 404.90,309.30 405.15,309.30 405.40,309.30 405.65,309.30 405.90,309.30 406.15,309.30 406.40,309.30 406.65,309.30 406.90,309.30 407.15,309.30 407.40,309.30 407.65,309.30 407.90,309.30 408.15,309.30 408.40,309.30 408.65,309.30 408.90,309.30 409.15,309.30 409.40,309.30 409.65,309.30 409.90,309.30 410.15,309.30 410.40,309.30 410.65,309.30 410.90,309.30 411.15,309.30 411.40,309.30 411.65,309.30 411.90,309.30 412.15,309.30 412.40,309.30 412.65,309.30 412.90,309.30 413.15,309.30 413.40,309.30 413.65,309.30 413.90,309.30 414.15,309.30 414.40,309.30 414.65,309.30 414.90,309.30 415.15,309.30 415.40,309.30 415.65,309.30 415.90,309.30 416.15,309.30 416.40,309.30 416.65,309.30 416.90,309.30 417.15,309.30 417.40,309.30 417.65,309.30 417.90,309.30 418.15,309.30 418.40,309.30 418.65,309.30 418.90,309.30 419.15,309.30 419.40,309.30 419.65,309.30 419.90,309.30 420.15,309.30 420.40,309.30 420.65,309.30 420.90,309.30 421.15,309.30 421.40,309.30 421.65,309.30 421.90,309.30 422.15,309.30 422.40,309.30 422.65,309.30 422.90,309.30 423.15,309.30 423.40,309.30 423.65,309.30 423.90,309.30 424.15,309.30 424.40,309.30 424.65,309.30 424.90,309.30 425.15,309.30 425.40,309.30 425.65,309.30 425.90,309.30 426.15,309.30 426.40,309.30 426.65,309.30 426.90,309.30 427.15,309.30 427.40,309.30 427.65,309.30 427.90,309.30 428.15,309.30 428.40,309.30 428.65,309.30 428.90,309.30 429.15,309.30 429.40,309.30 429.65,309.30 429.90,309.30 430.15,309.30 430.40,309.30 430.65,309.30 430.90,309.30 431.15,309.30 431.40,309.30 431.65,309.30 431.90,309.30 432.15,309.30 432.40,309.30 432.65,309.30 432.90,309.30 433.15,309.30 433.40,309.30 433.65,309.30 433.90,309.30 434.15,309.30 434.40,309.30 434.65,309.30 434.90,309.30 435.15,309.30 435.40,309.30 435.65,309.30 435.90,309.30 436.15,309.30 436.40,309.30 436.65,309.30 436.90,309.30 437.15,309.30 437.40,309.30 437.65,309.30 437.90,309.30 438.15,309.30 438.40,309.30 438.65,309.30 438.90,309.30 439.15,309.30 439.40,309.30 439.65,309.30 439.90,309.30 440.15,309.30 440.40,309.30 440.65,309.30 440.90,309.30 441.15,309.30 441.40,309.30 441.65,309.30 441.90,309.30 442.15,309.30 442.40,309.30 442.65,309.30 442.90,309.30 443.15,309.30 443.40,309.30 443.65,309.30 443.90,309.30 444.15,309.30 444.40,309.30 444.65,309.30 444.90,309.30 445.15,309.30 445.40,309.30 445.65,309.30 445.90,309.30 446.15,309.30 446.40,309.30 446.65,309.30 446.90,309.30 447.15,309.30 447.40,309.30 447.65,309.30 447.90,309.30 448.15,309.30 448.40,309.30 448.65,309.30 448.90,309.30 449.15,309.30 449.40,309.30 449.65,309.30 449.90,309.30 450.15,309.30 450.40,309.30 450.65,309.30 450.90,309.30 451.15,309.30 451.40,309.30 451.65,309.30 451.90,309.30 452.15,309.30 452.40,309.30 452.65,309.30 452.90,309.30 453.15,309.30 453.40,309.30 453.65,309.30 453.90,309.30 454.15,309.30 454.40,309.30 454.65,309.30 454.90,309.30 455.15,309.30 455.40,309.30 455.65,309.30 455.90,309.30 456.15,309.30 456.40,309.30 456.65,309.30 456.90,309.30 457.15,309.30 457.40,309.30 457.65,309.30 457.90,309.30 458.15,309.30 458.40,309.30 458.65,309.30 458.90,309.30 459.15,309.30 459.40,309.30 459.65,309.30 459.90,309.30 460.15,309.30 460.40,309.30 460.65,309.30 460.90,309.30 461.15,309.30 461.40,309.30 461.65,309.30 461.90,309.30 462.15,309.30 462.40,309.30 462.65,309.30 462.90,309.30 463.15,309.30 463.40,309.30 463.65,309.30 463.90,309.30 464.15,309.30 464.40,309.30 464.65,309.30 464.90,309.30 465.15,309.30 465.40,309.30 465.65,309.30 465.90,309.30 466.15,309.30 466.40,309.30 466.65,309.30 466.90,309.30 467.15,309.30 467.40,309.30 467.65,309.30 467.90,309.30 468.15,309.30 468.40,309.30 468.65,309.30 468.90,309.30 469.15,309.30 469.40,309.30 469.65,309.30 469.90,309.30 470.15,309.30 470.40,309.30 470.65,309.30 470.90,309.30 471.15,309.30 471.40,309.30 471.65,309.30 471.90,309.30 472.15,309.30 472.40,309.30 472.65,309.30 472.90,309.30 473.15,309.30 473.40,309.30 473.65,309.30 473.90,309.30 474.15,309.30 474.40,309.30 474.65,309.30 474.90,309.30 475.15,309.30 475.40,309.30 475.65,309.30 475.90,309.30 476.15,309.30 476.40,309.30 476.65,309.30 476.90,309.30 477.15,309.30 477.40,309.30 477.65,309.30 477.90,309.30 478.15,309.30 478.40,309.30 478.65,309.30 478.90,309.30 479.15,309.30 479.40,309.30 479.65,309.30 479.90,309.30 480.15,309.30 480.40,309.30 480.65,309.30 480.90,309.30 481.15,309.30 481.40,309.30 481.65,309.30 481.90,309.30 482.15,309.30 482.40,309.30 482.65,309.30 482.90,309.30 483.15,309.30 483.40,309.30 483.65,309.30 483.90,309.30 484.15,309.30 484.40,309.30 484.65,309.30 484.90,309.30 485.15,309.30 485.40,309.30 485.65,309.30 485.90,309.30 486.15,309.30 486.40,309.30 486.65,309.30 486.90,309.30 487.15,309.30 487.40,309.30 487.65,309.30 487.90,309.30 488.15,309.30 488.40,309.30 488.65,309.30 488.90,309.30 489.15,309.30 489.40,309.30 489.65,309.30 489.90,309.30 490.15,309.30 490.40,309.30 490.65,309.30 490.90,309.30 491.15,309.30 491.40,309.30 491.65,309.30 491.90,309.30 492.15,309.30 492.40,309.30 492.65,309.30 492.90,309.30 493.15,309.30 493.40,309.30 493.65,309.30 493.90,309.30 494.15,309.30 494.40,309.30 494.65,309.30 494.90,309.30 495.15,309.30 495.40,309.30 495.65,309.30 495.90,309.30 496.15,309.30 496.40,309.30 496.65,309.30 496.90,309.30 497.15,309.30 497.40,309.30 497.65,309.30 497.90,309.30 498.15,309.30 498.40,309.30 498.65,309.30 498.90,309.30 499.15,309.30 499.40,309.30 499.65,309.30 499.90,309.30 500.15,309.30 500.40,309.30 500.65,309.30 500.90,309.30 501.00,309.30" fill="none" stroke="#9A9838" stroke-width="2.3" stroke-linejoin="round" stroke-linecap="round"/>
<polyline points="90.15,40.00 90.40,53.43 90.65,59.12 90.90,63.02 91.15,65.96 91.40,68.75 91.65,72.04 91.90,75.65 92.15,79.29 92.40,82.73 92.65,85.86 92.90,88.95 93.15,91.85 93.40,94.38 93.65,96.34 93.90,97.79 94.15,98.94 94.40,99.93 94.65,100.94 94.90,102.13 95.15,103.64 95.40,105.90 95.65,109.21 95.90,113.03 96.15,116.81 96.40,120.01 96.65,122.27 96.90,124.11 97.15,125.73 97.40,127.23 97.65,128.72 97.90,130.31 98.15,132.03 98.40,133.74 98.65,135.65 98.90,138.10 99.15,141.52 99.40,145.00 99.65,148.13 99.90,151.01 100.15,153.39 100.40,155.60 100.65,157.33 100.90,158.32 101.15,159.06 101.40,159.65 101.65,160.05 101.90,160.20 102.15,160.13 102.40,159.95 102.65,159.69 102.90,159.41 103.15,159.14 103.40,158.91 103.65,158.67 103.90,158.41 104.15,158.13 104.40,157.87 104.65,157.63 104.90,157.43 105.15,157.28 105.40,157.21 105.65,157.30 105.90,157.85 106.15,158.83 106.40,160.12 106.65,161.65 106.90,163.31 107.15,165.26 107.40,168.17 107.65,171.59 107.90,175.00 108.15,178.32 108.40,181.78 108.65,185.26 108.90,188.68 109.15,191.95 109.40,195.18 109.65,198.35 109.90,201.44 110.15,204.42 110.40,207.33 110.65,210.25 110.90,213.09 111.15,215.79 111.40,218.25 111.65,220.40 111.90,222.17 112.15,223.71 112.40,225.21 112.65,226.86 112.90,228.84 113.15,231.18 113.40,233.78 113.65,236.56 113.90,239.42 114.15,242.26 114.40,245.00 114.65,247.81 114.90,250.80 115.15,253.81 115.40,256.68 115.65,259.25 115.90,261.33 116.15,262.92 116.40,264.43 116.65,265.89 116.90,267.26 117.15,268.51 117.40,269.58 117.65,270.46 117.90,271.09 118.15,271.44 118.40,271.47 118.65,271.19 118.90,270.65 119.15,269.93 119.40,269.09 119.65,268.20 119.90,267.33 120.15,266.50 120.40,265.62 120.65,264.66 120.90,263.64 121.15,262.57 121.40,261.45 121.65,260.29 121.90,259.03 122.15,257.69 122.40,256.31 122.65,254.91 122.90,253.54 123.15,252.22 123.40,250.98 123.65,249.77 123.90,248.52 124.15,247.17 124.40,245.66 124.65,243.92 124.90,241.86 125.15,239.55 125.40,237.04 125.65,234.33 125.90,231.22 126.15,227.88 126.40,224.54 126.65,221.39 126.90,218.46 127.15,215.61 127.40,212.76 127.65,209.83 127.90,206.75 128.15,203.57 128.40,200.31 128.65,196.94 128.90,193.44 129.15,189.69 129.40,185.41 129.65,180.87 129.90,176.41 130.15,172.35 130.40,169.04 130.65,166.57 130.90,164.21 131.15,161.93 131.40,159.82 131.65,157.94 131.90,156.38 132.15,155.20 132.40,154.49 132.65,154.31 132.90,154.74 133.15,155.69 133.40,157.09 133.65,158.85 133.90,160.86 134.15,163.04 134.40,165.31 134.65,167.56 134.90,169.93 135.15,172.78 135.40,175.99 135.65,179.44 135.90,183.01 136.15,186.57 136.40,190.00 136.65,193.42 136.90,196.94 137.15,200.42 137.40,203.75 137.65,206.81 137.90,209.67 138.15,212.40 138.40,215.04 138.65,217.64 138.90,220.25 139.15,222.91 139.40,225.68 139.65,228.60 139.90,231.87 140.15,235.41 140.40,239.03 140.65,242.56 140.90,245.82 141.15,248.62 141.40,250.82 141.65,252.78 141.90,254.60 142.15,256.30 142.40,257.88 142.65,259.35 142.90,260.74 143.15,262.04 143.40,263.27 143.65,264.44 143.90,265.56 144.15,266.65 144.40,267.74 144.65,268.81 144.90,269.83 145.15,270.80 145.40,271.70 145.65,272.49 145.90,273.18 146.15,273.74 146.40,274.16 146.65,274.54 146.90,274.91 147.15,275.25 147.40,275.57 147.65,275.85 147.90,276.09 148.15,276.28 148.40,276.41 148.65,276.49 148.90,276.49 149.15,276.38 149.40,276.16 149.65,275.84 149.90,275.43 150.15,274.96 150.40,274.43 150.65,273.85 150.90,273.25 151.15,272.57 151.40,271.60 151.65,270.38 151.90,268.97 152.15,267.43 152.40,265.81 152.65,264.19 152.90,262.61 153.15,261.09 153.40,259.54 153.65,257.94 153.90,256.30 154.15,254.64 154.40,252.97 154.65,251.30 154.90,249.65 155.15,248.06 155.40,246.62 155.65,245.27 155.90,243.92 156.15,242.50 156.40,240.92 156.65,239.10 156.90,236.96 157.15,234.25 157.40,230.34 157.65,225.43 157.90,219.81 158.15,213.77 158.40,207.60 158.65,201.58 158.90,196.00 159.15,190.50 159.40,184.67 159.65,178.73 159.90,172.88 160.15,167.35 160.40,162.36 160.65,158.10 160.90,154.82 161.15,152.43 161.40,150.00 161.65,147.04 161.90,143.80 162.15,140.34 162.40,136.74 162.65,133.07 162.90,129.39 163.15,125.77 163.40,122.29 163.65,119.01 163.90,116.00 164.15,113.13 164.40,110.28 164.65,107.52 164.90,104.95 165.15,102.63 165.40,100.67 165.65,99.07 165.90,97.61 166.15,96.29 166.40,95.12 166.65,94.11 166.90,93.28 167.15,92.61 167.40,91.96 167.65,91.33 167.90,90.74 168.15,90.20 168.40,89.71 168.65,89.28 168.90,88.94 169.15,88.69 169.40,88.54 169.65,88.50 169.90,88.61 170.15,88.86 170.40,89.23 170.65,89.69 170.90,90.24 171.15,90.83 171.40,91.47 171.65,92.11 171.90,92.75 172.15,93.38 172.40,94.06 172.65,94.80 172.90,95.60 173.15,96.45 173.40,97.36 173.65,98.33 173.90,99.34 174.15,100.41 174.40,101.54 174.65,102.76 174.90,104.25 175.15,105.90 175.40,107.58 175.65,109.16 175.90,110.51 176.15,111.66 176.40,112.71 176.65,113.76 176.90,114.93 177.15,116.29 177.40,117.87 177.65,119.63 177.90,121.54 178.15,123.59 178.40,125.76 178.65,128.04 178.90,130.39 179.15,132.81 179.40,135.28 179.65,137.77 179.90,140.27 180.15,142.77 180.40,145.23 180.65,147.65 180.90,150.00 181.15,152.30 181.40,154.59 181.65,156.88 181.90,159.19 182.15,161.54 182.40,163.93 182.65,166.40 182.90,168.95 183.15,171.66 183.40,174.69 183.65,177.91 183.90,181.16 184.15,184.30 184.40,187.16 184.65,189.58 184.90,191.58 185.15,193.44 185.40,195.15 185.65,196.71 185.90,198.11 186.15,199.34 186.40,200.41 186.65,201.38 186.90,202.26 187.15,203.06 187.40,203.80 187.65,204.47 187.90,205.07 188.15,205.64 188.40,206.23 188.65,206.81 188.90,207.35 189.15,207.81 189.40,208.16 189.65,208.36 189.90,208.39 190.15,208.34 190.40,208.23 190.65,208.07 190.90,207.89 191.15,207.69 191.40,207.48 191.65,207.26 191.90,206.96 192.15,206.61 192.40,206.22 192.65,205.81 192.90,205.43 193.15,205.08 193.40,204.79 193.65,204.57 193.90,204.36 194.15,204.16 194.40,203.96 194.65,203.79 194.90,203.65 195.15,203.56 195.40,203.50 195.65,203.51 195.90,203.60 196.15,203.76 196.40,203.97 196.65,204.23 196.90,204.52 197.15,204.84 197.40,205.17 197.65,205.52 197.90,205.97 198.15,206.52 198.40,207.14 198.65,207.83 198.90,208.57 199.15,209.34 199.40,210.18 199.65,211.16 199.90,212.24 200.15,213.38 200.40,214.54 200.65,215.70 200.90,216.89 201.15,218.13 201.40,219.39 201.65,220.68 201.90,221.98 202.15,223.29 202.40,224.61 202.65,225.96 202.90,227.33 203.15,228.72 203.40,230.16 203.65,231.68 203.90,233.21 204.15,234.67 204.40,236.00 204.65,237.18 204.90,238.28 205.15,239.32 205.40,240.34 205.65,241.36 205.90,242.43 206.15,243.48 206.40,244.53 206.65,245.58 206.90,246.66 207.15,247.79 207.40,248.99 207.65,250.24 207.90,251.55 208.15,252.90 208.40,254.28 208.65,255.69 208.90,257.12 209.15,258.57 209.40,260.01 209.65,261.44 209.90,262.88 210.15,264.37 210.40,265.93 210.65,267.53 210.90,269.15 211.15,270.76 211.40,272.34 211.65,273.88 211.90,275.35 212.15,276.72 212.40,277.98 212.65,279.10 212.90,280.09 213.15,281.01 213.40,281.89 213.65,282.71 213.90,283.48 214.15,284.22 214.40,284.92 214.65,285.59 214.90,286.25 215.15,286.88 215.40,287.49 215.65,288.09 215.90,288.67 216.15,289.22 216.40,289.75 216.65,290.25 216.90,290.72 217.15,291.15 217.40,291.56 217.65,291.94 217.90,292.31 218.15,292.66 218.40,292.99 218.65,293.31 218.90,293.62 219.15,293.91 219.40,294.19 219.65,294.45 219.90,294.70 220.15,294.94 220.40,295.18 220.65,295.40 220.90,295.62 221.15,295.83 221.40,296.03 221.65,296.22 221.90,296.41 222.15,296.59 222.40,296.76 222.65,296.92 222.90,297.08 223.15,297.23 223.40,297.38 223.65,297.52 223.90,297.66 224.15,297.80 224.40,297.94 224.65,298.07 224.90,298.19 225.15,298.31 225.40,298.42 225.65,298.52 225.90,298.62 226.15,298.70 226.40,298.77 226.65,298.84 226.90,298.90 227.15,298.96 227.40,299.03 227.65,299.09 227.90,299.14 228.15,299.20 228.40,299.25 228.65,299.30 228.90,299.34 229.15,299.38 229.40,299.42 229.65,299.45 229.90,299.47 230.15,299.49 230.40,299.50 230.65,299.50 230.90,299.49 231.15,299.47 231.40,299.45 231.65,299.41 231.90,299.37 232.15,299.32 232.40,299.27 232.65,299.21 232.90,299.15 233.15,299.08 233.40,299.01 233.65,298.94 233.90,298.87 234.15,298.79 234.40,298.69 234.65,298.58 234.90,298.46 235.15,298.33 235.40,298.19 235.65,298.04 235.90,297.88 236.15,297.72 236.40,297.55 236.65,297.38 236.90,297.20 237.15,297.01 237.40,296.81 237.65,296.59 237.90,296.36 238.15,296.12 238.40,295.86 238.65,295.60 238.90,295.32 239.15,295.03 239.40,294.74 239.65,294.43 239.90,294.13 240.15,293.81 240.40,293.48 240.65,293.13 240.90,292.76 241.15,292.38 241.40,291.99 241.65,291.58 241.90,291.15 242.15,290.72 242.40,290.26 242.65,289.80 242.90,289.31 243.15,288.80 243.40,288.26 243.65,287.69 243.90,287.11 244.15,286.50 244.40,285.87 244.65,285.23 244.90,284.57 245.15,283.89 245.40,283.18 245.65,282.45 245.90,281.69 246.15,280.91 246.40,280.10 246.65,279.27 246.90,278.42 247.15,277.54 247.40,276.63 247.65,275.69 247.90,274.70 248.15,273.67 248.40,272.61 248.65,271.53 248.90,270.44 249.15,269.33 249.40,268.16 249.65,266.94 249.90,265.72 250.15,264.50 250.40,263.33 250.65,262.21 250.90,261.16 251.15,260.15 251.40,259.16 251.65,258.20 251.90,257.27 252.15,256.37 252.40,255.50 252.65,254.67 252.90,253.86 253.15,253.08 253.40,252.32 253.65,251.58 253.90,250.85 254.15,250.14 254.40,249.44 254.65,248.73 254.90,248.04 255.15,247.36 255.40,246.69 255.65,246.05 255.90,245.43 256.15,244.84 256.40,244.28 256.65,243.74 256.90,243.21 257.15,242.70 257.40,242.21 257.65,241.74 257.90,241.29 258.15,240.86 258.40,240.45 258.65,240.07 258.90,239.68 259.15,239.31 259.40,238.95 259.65,238.62 259.90,238.34 260.15,238.11 260.40,237.94 260.65,237.79 260.90,237.64 261.15,237.52 261.40,237.42 261.65,237.34 261.90,237.30 262.15,237.31 262.40,237.34 262.65,237.40 262.90,237.49 263.15,237.59 263.40,237.70 263.65,237.82 263.90,237.95 264.15,238.12 264.40,238.34 264.65,238.59 264.90,238.87 265.15,239.17 265.40,239.48 265.65,239.80 265.90,240.13 266.15,240.49 266.40,240.87 266.65,241.28 266.90,241.71 267.15,242.16 267.40,242.62 267.65,243.11 267.90,243.60 268.15,244.13 268.40,244.70 268.65,245.30 268.90,245.90 269.15,246.52 269.40,247.12 269.65,247.72 269.90,248.30 270.15,248.88 270.40,249.46 270.65,250.04 270.90,250.62 271.15,251.20 271.40,251.78 271.65,252.36 271.90,252.95 272.15,253.54 272.40,254.13 272.65,254.73 272.90,255.33 273.15,255.94 273.40,256.55 273.65,257.18 273.90,257.82 274.15,258.47 274.40,259.13 274.65,259.80 274.90,260.48 275.15,261.16 275.40,261.84 275.65,262.52 275.90,263.20 276.15,263.87 276.40,264.53 276.65,265.18 276.90,265.82 277.15,266.44 277.40,267.04 277.65,267.64 277.90,268.24 278.15,268.83 278.40,269.42 278.65,270.00 278.90,270.58 279.15,271.15 279.40,271.70 279.65,272.25 279.90,272.79 280.15,273.32 280.40,273.84 280.65,274.34 280.90,274.82 281.15,275.29 281.40,275.75 281.65,276.20 281.90,276.65 282.15,277.08 282.40,277.51 282.65,277.92 282.90,278.33 283.15,278.73 283.40,279.12 283.65,279.51 283.90,279.88 284.15,280.25 284.40,280.61 284.65,280.96 284.90,281.30 285.15,281.64 285.40,281.97 285.65,282.30 285.90,282.63 286.15,282.95 286.40,283.27 286.65,283.58 286.90,283.89 287.15,284.19 287.40,284.48 287.65,284.77 287.90,285.04 288.15,285.31 288.40,285.57 288.65,285.83 288.90,286.07 289.15,286.30 289.40,286.52 289.65,286.72 289.90,286.93 290.15,287.13 290.40,287.33 290.65,287.52 290.90,287.71 291.15,287.89 291.40,288.07 291.65,288.25 291.90,288.42 292.15,288.59 292.40,288.76 292.65,288.92 292.90,289.07 293.15,289.22 293.40,289.37 293.65,289.52 293.90,289.66 294.15,289.79 294.40,289.93 294.65,290.05 294.90,290.18 295.15,290.30 295.40,290.41 295.65,290.52 295.90,290.63 296.15,290.74 296.40,290.84 296.65,290.94 296.90,291.04 297.15,291.14 297.40,291.23 297.65,291.32 297.90,291.41 298.15,291.49 298.40,291.57 298.65,291.65 298.90,291.72 299.15,291.79 299.40,291.86 299.65,291.92 299.90,291.98 300.15,292.03 300.40,292.08 300.65,292.13 300.90,292.18 301.15,292.22 301.40,292.27 301.65,292.31 301.90,292.35 302.15,292.39 302.40,292.43 302.65,292.47 302.90,292.50 303.15,292.54 303.40,292.57 303.65,292.60 303.90,292.64 304.15,292.67 304.40,292.70 304.65,292.73 304.90,292.76 305.15,292.79 305.40,292.83 305.65,292.86 305.90,292.89 306.15,292.92 306.40,292.95 306.65,292.98 306.90,293.02 307.15,293.05 307.40,293.09 307.65,293.13 307.90,293.16 308.15,293.20 308.40,293.23 308.65,293.27 308.90,293.30 309.15,293.33 309.40,293.37 309.65,293.40 309.90,293.43 310.15,293.45 310.40,293.48 310.65,293.50 310.90,293.53 311.15,293.54 311.40,293.56 311.65,293.58 311.90,293.59 312.15,293.59 312.40,293.60 312.65,293.60 312.90,293.60 313.15,293.59 313.40,293.58 313.65,293.57 313.90,293.55 314.15,293.53 314.40,293.51 314.65,293.49 314.90,293.46 315.15,293.43 315.40,293.40 315.65,293.37 315.90,293.33 316.15,293.30 316.40,293.26 316.65,293.22 316.90,293.18 317.15,293.14 317.40,293.10 317.65,293.05 317.90,293.01 318.15,292.97 318.40,292.92 318.65,292.88 318.90,292.83 319.15,292.79 319.40,292.75 319.65,292.70 319.90,292.65 320.15,292.59 320.40,292.54 320.65,292.48 320.90,292.41 321.15,292.35 321.40,292.28 321.65,292.21 321.90,292.14 322.15,292.07 322.40,292.00 322.65,291.92 322.90,291.84 323.15,291.76 323.40,291.68 323.65,291.60 323.90,291.52 324.15,291.43 324.40,291.35 324.65,291.26 324.90,291.18 325.15,291.09 325.40,291.00 325.65,290.92 325.90,290.83 326.15,290.74 326.40,290.65 326.65,290.55 326.90,290.46 327.15,290.36 327.40,290.26 327.65,290.16 327.90,290.05 328.15,289.95 328.40,289.84 328.65,289.73 328.90,289.62 329.15,289.51 329.40,289.40 329.65,289.28 329.90,289.16 330.15,289.04 330.40,288.92 330.65,288.80 330.90,288.67 331.15,288.55 331.40,288.42 331.65,288.29 331.90,288.16 332.15,288.03 332.40,287.89 332.65,287.75 332.90,287.61 333.15,287.47 333.40,287.32 333.65,287.18 333.90,287.02 334.15,286.87 334.40,286.71 334.65,286.55 334.90,286.39 335.15,286.23 335.40,286.06 335.65,285.89 335.90,285.72 336.15,285.55 336.40,285.37 336.65,285.20 336.90,285.02 337.15,284.84 337.40,284.65 337.65,284.47 337.90,284.28 338.15,284.10 338.40,283.91 338.65,283.72 338.90,283.52 339.15,283.33 339.40,283.13 339.65,282.92 339.90,282.71 340.15,282.50 340.40,282.29 340.65,282.07 340.90,281.85 341.15,281.63 341.40,281.40 341.65,281.17 341.90,280.94 342.15,280.71 342.40,280.48 342.65,280.24 342.90,280.00 343.15,279.77 343.40,279.53 343.65,279.29 343.90,279.05 344.15,278.81 344.40,278.57 344.65,278.32 344.90,278.08 345.15,277.84 345.40,277.60 345.65,277.36 345.90,277.12 346.15,276.88 346.40,276.64 346.65,276.40 346.90,276.15 347.15,275.91 347.40,275.66 347.65,275.41 347.90,275.16 348.15,274.91 348.40,274.66 348.65,274.41 348.90,274.16 349.15,273.90 349.40,273.65 349.65,273.39 349.90,273.13 350.15,272.87 350.40,272.61 350.65,272.34 350.90,272.08 351.15,271.81 351.40,271.54 351.65,271.27 351.90,271.00 352.15,270.73 352.40,270.45 352.65,270.17 352.90,269.88 353.15,269.60 353.40,269.31 353.65,269.02 353.90,268.72 354.15,268.43 354.40,268.13 354.65,267.84 354.90,267.54 355.15,267.24 355.40,266.94 355.65,266.63 355.90,266.33 356.15,266.03 356.40,265.73 356.65,265.42 356.90,265.12 357.15,264.82 357.40,264.52 357.65,264.22 357.90,263.92 358.15,263.62 358.40,263.32 358.65,263.02 358.90,262.73 359.15,262.43 359.40,262.14 359.65,261.85 359.90,261.56 360.15,261.26 360.40,260.97 360.65,260.67 360.90,260.37 361.15,260.07 361.40,259.77 361.65,259.46 361.90,259.15 362.15,258.83 362.40,258.51 362.65,258.18 362.90,257.85 363.15,257.51 363.40,257.18 363.65,256.84 363.90,256.50 364.15,256.16 364.40,255.82 364.65,255.49 364.90,255.16 365.15,254.83 365.40,254.51 365.65,254.20 365.90,253.89 366.15,253.59 366.40,253.30 366.65,253.01 366.90,252.73 367.15,252.45 367.40,252.17 367.65,251.89 367.90,251.61 368.15,251.34 368.40,251.07 368.65,250.80 368.90,250.54 369.15,250.27 369.40,250.02 369.65,249.76 369.90,249.51 370.15,249.26 370.40,249.02 370.65,248.78 370.90,248.55 371.15,248.32 371.40,248.10 371.65,247.88 371.90,247.67 372.15,247.46 372.40,247.25 372.65,247.05 372.90,246.85 373.15,246.65 373.40,246.46 373.65,246.27 373.90,246.08 374.15,245.89 374.40,245.70 374.65,245.52 374.90,245.34 375.15,245.17 375.40,245.00 375.65,244.83 375.90,244.67 376.15,244.51 376.40,244.35 376.65,244.20 376.90,244.05 377.15,243.90 377.40,243.77 377.65,243.63 377.90,243.50 378.15,243.37 378.40,243.24 378.65,243.11 378.90,242.98 379.15,242.86 379.40,242.73 379.65,242.61 379.90,242.49 380.15,242.37 380.40,242.26 380.65,242.15 380.90,242.05 381.15,241.96 381.40,241.87 381.65,241.80 381.90,241.73 382.15,241.67 382.40,241.62 382.65,241.58 382.90,241.54 383.15,241.50 383.40,241.46 383.65,241.42 383.90,241.39 384.15,241.37 384.40,241.34 384.65,241.32 384.90,241.31 385.15,241.30 385.40,241.30 385.65,241.31 385.90,241.33 386.15,241.36 386.40,241.40 386.65,241.44 386.90,241.49 387.15,241.55 387.40,241.61 387.65,241.67 387.90,241.74 388.15,241.80 388.40,241.87 388.65,241.94 388.90,242.03 389.15,242.12 389.40,242.23 389.65,242.35 389.90,242.47 390.15,242.61 390.40,242.75 390.65,242.89 390.90,243.04 391.15,243.19 391.40,243.34 391.65,243.49 391.90,243.65 392.15,243.82 392.40,243.99 392.65,244.16 392.90,244.35 393.15,244.53 393.40,244.73 393.65,244.92 393.90,245.12 394.15,245.33 394.40,245.54 394.65,245.75 394.90,245.96 395.15,246.18 395.40,246.40 395.65,246.62 395.90,246.84 396.15,247.07 396.40,247.29 396.65,247.52 396.90,247.74 397.15,247.97 397.40,248.19 397.65,248.42 397.90,248.64 398.15,248.87 398.40,249.11 398.65,249.34 398.90,249.58 399.15,249.82 399.40,250.06 399.65,250.31 399.90,250.56 400.15,250.80 400.40,251.06 400.65,251.31 400.90,251.56 401.15,251.82 401.40,252.08 401.65,252.34 401.90,252.61 402.15,252.87 402.40,253.14 402.65,253.41 402.90,253.68 403.15,253.95 403.40,254.23 403.65,254.51 403.90,254.80 404.15,255.08 404.40,255.38 404.65,255.67 404.90,255.97 405.15,256.27 405.40,256.57 405.65,256.87 405.90,257.18 406.15,257.49 406.40,257.80 406.65,258.11 406.90,258.42 407.15,258.73 407.40,259.04 407.65,259.36 407.90,259.67 408.15,259.99 408.40,260.30 408.65,260.61 408.90,260.93 409.15,261.24 409.40,261.55 409.65,261.86 409.90,262.18 410.15,262.49 410.40,262.80 410.65,263.12 410.90,263.44 411.15,263.75 411.40,264.07 411.65,264.39 411.90,264.71 412.15,265.03 412.40,265.36 412.65,265.68 412.90,266.01 413.15,266.34 413.40,266.67 413.65,267.01 413.90,267.34 414.15,267.68 414.40,268.02 414.65,268.37 414.90,268.72 415.15,269.08 415.40,269.44 415.65,269.80 415.90,270.17 416.15,270.55 416.40,270.93 416.65,271.30 416.90,271.69 417.15,272.07 417.40,272.45 417.65,272.84 417.90,273.22 418.15,273.60 418.40,273.98 418.65,274.36 418.90,274.74 419.15,275.11 419.40,275.48 419.65,275.84 419.90,276.20 420.15,276.55 420.40,276.90 420.65,277.24 420.90,277.58 421.15,277.92 421.40,278.26 421.65,278.60 421.90,278.93 422.15,279.26 422.40,279.59 422.65,279.91 422.90,280.23 423.15,280.55 423.40,280.87 423.65,281.18 423.90,281.49 424.15,281.80 424.40,282.10 424.65,282.39 424.90,282.68 425.15,282.97 425.40,283.25 425.65,283.53 425.90,283.80 426.15,284.07 426.40,284.34 426.65,284.60 426.90,284.86 427.15,285.11 427.40,285.37 427.65,285.62 427.90,285.87 428.15,286.12 428.40,286.37 428.65,286.63 428.90,286.88 429.15,287.13 429.40,287.38 429.65,287.64 429.90,287.90 430.15,288.16 430.40,288.42 430.65,288.68 430.90,288.95 431.15,289.22 431.40,289.49 431.65,289.76 431.90,290.03 432.15,290.29 432.40,290.56 432.65,290.83 432.90,291.09 433.15,291.36 433.40,291.62 433.65,291.88 433.90,292.13 434.15,292.38 434.40,292.63 434.65,292.87 434.90,293.11 435.15,293.34 435.40,293.57 435.65,293.80 435.90,294.02 436.15,294.24 436.40,294.46 436.65,294.68 436.90,294.90 437.15,295.11 437.40,295.32 437.65,295.53 437.90,295.74 438.15,295.94 438.40,296.14 438.65,296.34 438.90,296.54 439.15,296.74 439.40,296.94 439.65,297.13 439.90,297.32 440.15,297.51 440.40,297.70 440.65,297.89 440.90,298.08 441.15,298.26 441.40,298.45 441.65,298.63 441.90,298.81 442.15,298.99 442.40,299.17 442.65,299.34 442.90,299.52 443.15,299.69 443.40,299.86 443.65,300.03 443.90,300.19 444.15,300.36 444.40,300.52 444.65,300.68 444.90,300.84 445.15,300.99 445.40,301.15 445.65,301.30 445.90,301.45 446.15,301.60 446.40,301.75 446.65,301.90 446.90,302.05 447.15,302.19 447.40,302.33 447.65,302.47 447.90,302.61 448.15,302.75 448.40,302.88 448.65,303.02 448.90,303.15 449.15,303.28 449.40,303.41 449.65,303.53 449.90,303.65 450.15,303.77 450.40,303.89 450.65,304.01 450.90,304.12 451.15,304.24 451.40,304.35 451.65,304.46 451.90,304.57 452.15,304.67 452.40,304.78 452.65,304.89 452.90,304.99 453.15,305.09 453.40,305.19 453.65,305.29 453.90,305.39 454.15,305.48 454.40,305.58 454.65,305.67 454.90,305.76 455.15,305.85 455.40,305.94 455.65,306.03 455.90,306.12 456.15,306.21 456.40,306.30 456.65,306.38 456.90,306.47 457.15,306.55 457.40,306.63 457.65,306.71 457.90,306.79 458.15,306.87 458.40,306.95 458.65,307.02 458.90,307.10 459.15,307.17 459.40,307.24 459.65,307.31 459.90,307.37 460.15,307.44 460.40,307.50 460.65,307.57 460.90,307.63 461.15,307.69 461.40,307.76 461.65,307.82 461.90,307.88 462.15,307.94 462.40,307.99 462.65,308.05 462.90,308.10 463.15,308.16 463.40,308.21 463.65,308.26 463.90,308.31 464.15,308.36 464.40,308.40 464.65,308.44 464.90,308.48 465.15,308.52 465.40,308.56 465.65,308.60 465.90,308.64 466.15,308.68 466.40,308.71 466.65,308.75 466.90,308.78 467.15,308.82 467.40,308.85 467.65,308.88 467.90,308.91 468.15,308.94 468.40,308.97 468.65,309.00 468.90,309.02 469.15,309.04 469.40,309.06 469.65,309.08 469.90,309.09 470.15,309.11 470.40,309.12 470.65,309.13 470.90,309.15 471.15,309.16 471.40,309.17 471.65,309.18 471.90,309.19 472.15,309.20 472.40,309.21 472.65,309.22 472.90,309.23 473.15,309.23 473.40,309.24 473.65,309.25 473.90,309.25 474.15,309.26 474.40,309.26 474.65,309.27 474.90,309.27 475.15,309.27 475.40,309.27 475.65,309.28 475.90,309.28 476.15,309.28 476.40,309.28 476.65,309.29 476.90,309.29 477.15,309.29 477.40,309.29 477.65,309.29 477.90,309.29 478.15,309.30 478.40,309.30 478.65,309.30 478.90,309.30 479.15,309.30 479.40,309.30 479.65,309.30 479.90,309.30 480.15,309.30 480.40,309.30 480.65,309.30 480.90,309.30 481.15,309.30 481.40,309.30 481.65,309.30 481.90,309.30 482.15,309.30 482.40,309.30 482.65,309.30 482.90,309.30 483.15,309.30 483.40,309.30 483.65,309.30 483.90,309.30 484.15,309.30 484.40,309.30 484.65,309.30 484.90,309.30 485.15,309.30 485.40,309.30 485.65,309.30 485.90,309.30 486.15,309.30 486.40,309.30 486.65,309.30 486.90,309.30 487.15,309.30 487.40,309.30 487.65,309.30 487.90,309.30 488.15,309.30 488.40,309.30 488.65,309.30 488.90,309.30 489.15,309.30 489.40,309.30 489.65,309.30 489.90,309.30 490.15,309.30 490.40,309.30 490.65,309.30 490.90,309.30 491.15,309.30 491.40,309.30 491.65,309.30 491.90,309.30 492.15,309.30 492.40,309.30 492.65,309.30 492.90,309.30 493.15,309.30 493.40,309.30 493.65,309.30 493.90,309.30 494.15,309.30 494.40,309.30 494.65,309.30 494.90,309.30 495.15,309.30 495.40,309.30 495.65,309.30 495.90,309.30 496.15,309.30 496.40,309.30 496.65,309.30 496.90,309.30 497.15,309.30 497.40,309.30 497.65,309.30 497.90,309.30 498.15,309.30 498.40,309.30 498.65,309.30 498.90,309.30 499.15,309.30 499.40,309.30 499.65,309.30 499.90,309.30 500.15,309.30 500.40,309.30 500.65,309.30 500.90,309.30 501.00,309.30" fill="none" stroke="#6B6BB5" stroke-width="2.3" stroke-linejoin="round" stroke-linecap="round"/>
<rect x="90.15" y="8" width="410.85" height="301.30" fill="none" stroke="#1c1c1c" stroke-width="1.4"/>
<rect x="358.95" y="7.3" width="142.05" height="129.6" fill="#fff" stroke="#747474" stroke-width="1"/>
<line x1="501.0" y1="7.25" x2="501.0" y2="140" stroke="#1c1c1c" stroke-width="1.5"/>
<g font-size="15.7" stroke="#1a1a1a" stroke-width="0.35">
<text transform="translate(107.30,332.2) scale(1.03,1)" text-anchor="middle">300</text>
<text transform="translate(163.54,332.2) scale(1.03,1)" text-anchor="middle">400</text>
<text transform="translate(219.78,332.2) scale(1.03,1)" text-anchor="middle">500</text>
<text transform="translate(276.02,332.2) scale(1.03,1)" text-anchor="middle">600</text>
<text transform="translate(332.26,332.2) scale(1.03,1)" text-anchor="middle">700</text>
<text transform="translate(388.50,332.2) scale(1.03,1)" text-anchor="middle">800</text>
<text transform="translate(444.74,332.2) scale(1.03,1)" text-anchor="middle">900</text>
<text transform="translate(500.98,332.2) scale(1.03,1)" text-anchor="middle">1000</text>
<text transform="translate(79.1,314.10) scale(1.03,1)" text-anchor="end">0</text>
<text transform="translate(79.1,213.67) scale(1.03,1)" text-anchor="end">10000</text>
<text transform="translate(79.1,113.23) scale(1.03,1)" text-anchor="end">20000</text>
<text transform="translate(79.1,12.80) scale(1.03,1)" text-anchor="end">30000</text>
</g>
<g font-size="15">
<line x1="360.5" y1="16.6" x2="394.5" y2="16.6" stroke="#000000" stroke-width="2.4"/>
<text x="398.3" y="21.9" stroke="#1a1a1a" stroke-width="0.3">MIL-125</text>
<line x1="360.5" y1="35.0" x2="394.5" y2="35.0" stroke="#DC101C" stroke-width="2.4"/>
<text x="398.3" y="40.3" stroke="#1a1a1a" stroke-width="0.3">NH<tspan baseline-shift="-5.8" font-size="8.8">2</tspan>-MIL-125</text>
<line x1="360.5" y1="58.4" x2="394.5" y2="58.4" stroke="#1212D8" stroke-width="2.4"/>
<text x="398.3" y="63.7" stroke="#1a1a1a" stroke-width="0.3">OH-MIL-125</text>
<line x1="360.5" y1="76.9" x2="394.5" y2="76.9" stroke="#087464" stroke-width="2.4"/>
<text x="398.3" y="82.2" stroke="#1a1a1a" stroke-width="0.3">NO<tspan baseline-shift="-5.8" font-size="8.8">2</tspan>-MIL-125</text>
<line x1="360.5" y1="100.7" x2="394.5" y2="100.7" stroke="#9A9838" stroke-width="2.4"/>
<text x="398.3" y="106.0" stroke="#1a1a1a" stroke-width="0.3">(NH<tspan baseline-shift="-5.8" font-size="8.8">2</tspan>)<tspan baseline-shift="-5.8" font-size="8.8">2</tspan>-MIL-125</text>
<line x1="360.5" y1="123.6" x2="394.5" y2="123.6" stroke="#6B6BB5" stroke-width="2.4"/>
<text x="398.3" y="128.9" stroke="#1a1a1a" stroke-width="0.3">(NH<tspan baseline-shift="-5.8" font-size="8.8">2</tspan>)<tspan baseline-shift="-5.8" font-size="8.8">3</tspan>-MIL-125</text>
</g>
<text x="295.4" y="360.6" text-anchor="middle" font-size="17.3" font-weight="bold" stroke="#1a1a1a" stroke-width="0.25">Wavelength/nm</text>
<text transform="translate(14.1,172.8) rotate(-90)" text-anchor="middle" font-size="16.8" font-weight="bold" stroke="#1a1a1a" stroke-width="0.25" textLength="187" lengthAdjust="spacingAndGlyphs">Adsorption coefficient</text>
</svg>
</body></html>
